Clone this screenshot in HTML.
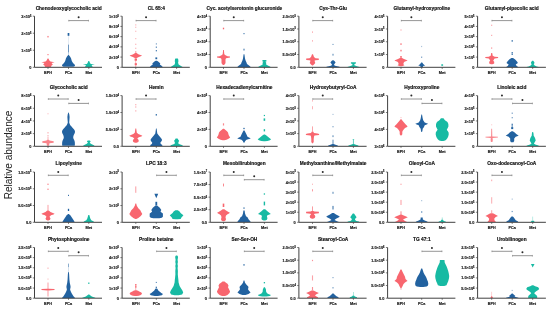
<!DOCTYPE html><html><head><meta charset="utf-8"><style>html,body{margin:0;padding:0;background:#fff;overflow:hidden}svg{display:block;will-change:transform}text{font-family:"Liberation Sans",sans-serif}</style></head><body>
<svg width="550" height="309" viewBox="0 0 550 309">
<rect width="550" height="309" fill="#fff"/>
<text x="0" y="0" transform="translate(11.8,155.0) rotate(-90)" text-anchor="middle" font-size="10.8" textLength="88.7" lengthAdjust="spacingAndGlyphs" fill="#222">Relative abundance</text>
<text x="68.70" y="9.80" text-anchor="middle" font-size="6.1" font-weight="bold" textLength="66.14" lengthAdjust="spacingAndGlyphs" fill="#111" stroke="#111" stroke-width="0.2">Chenodeoxyglycocholic acid</text>
<rect x="47.25" y="35.95" width="1.50" height="1.50" fill="#F8666F" fill-opacity="0.7150000000000001"/>
<rect x="47.30" y="54.00" width="1.40" height="1.20" fill="#F8666F" fill-opacity="0.7150000000000001"/>
<path d="M48.40,58.50 L49.40,60.40 L50.50,61.60 L54.60,62.20 L51.50,62.90 L52.20,63.80 L52.80,64.70 L51.50,65.50 L51.20,66.40 L50.80,67.00 L45.20,67.00 L44.80,66.40 L44.50,65.50 L43.20,64.70 L43.80,63.80 L44.50,62.90 L41.40,62.20 L45.50,61.60 L46.60,60.40 L47.60,58.50Z" fill="#F8666F"/>
<rect x="67.65" y="33.00" width="1.70" height="2.80" fill="#2262A0" fill-opacity="1"/>
<rect x="68.25" y="36.00" width="0.50" height="8.50" fill="#2262A0" fill-opacity="0.24"/>
<rect x="68.05" y="44.60" width="0.90" height="7.80" fill="#2262A0" fill-opacity="0.72"/>
<rect x="68.20" y="52.40" width="0.60" height="2.60" fill="#2262A0" fill-opacity="0.48"/>
<path d="M68.80,54.90 L70.00,56.50 L71.00,58.20 L71.80,60.90 L73.00,63.10 L74.80,64.70 L75.00,66.10 L73.50,66.80 L63.50,66.80 L62.00,66.10 L62.20,64.70 L64.00,63.10 L65.20,60.90 L66.00,58.20 L67.00,56.50 L68.20,54.90Z" fill="#2262A0"/>
<path d="M89.20,60.90 L90.00,63.10 L90.80,64.00 L94.80,64.40 L91.80,65.00 L91.80,65.80 L92.80,66.60 L91.80,67.00 L85.80,67.00 L84.80,66.60 L85.80,65.80 L85.80,65.00 L82.80,64.40 L86.80,64.00 L87.60,63.10 L88.40,60.90Z" fill="#17BAA3"/>
<path d="M34.50,16.20 V67.30 H102.00" fill="none" stroke="#404040" stroke-width="1.0"/>
<text transform="translate(31.40,17.75) scale(0.94,1)" text-anchor="end" font-size="4.1" font-weight="bold" fill="#1a1a1a" stroke="#1a1a1a" stroke-width="0.16">3×10<tspan font-size="2.7" dy="-1.1">5</tspan></text>
<text transform="translate(31.40,34.78) scale(0.94,1)" text-anchor="end" font-size="4.1" font-weight="bold" fill="#1a1a1a" stroke="#1a1a1a" stroke-width="0.16">2×10<tspan font-size="2.7" dy="-1.1">5</tspan></text>
<text transform="translate(31.40,51.82) scale(0.94,1)" text-anchor="end" font-size="4.1" font-weight="bold" fill="#1a1a1a" stroke="#1a1a1a" stroke-width="0.16">1×10<tspan font-size="2.7" dy="-1.1">5</tspan></text>
<text transform="translate(31.30,68.85) scale(0.94,1)" text-anchor="end" font-size="4.1" font-weight="bold" fill="#1a1a1a" stroke="#1a1a1a" stroke-width="0.16">0</text>
<path d="M32.80,16.20H34.50M32.80,33.23H34.50M32.80,50.27H34.50M32.80,67.30H34.50M48.00,67.30V68.90M68.50,67.30V68.90M88.80,67.30V68.90" stroke="#404040" stroke-width="0.7" fill="none"/>
<text x="48.00" y="73.80" text-anchor="middle" font-size="4.1" font-weight="bold" textLength="7.8" lengthAdjust="spacingAndGlyphs" fill="#1a1a1a" stroke="#1a1a1a" stroke-width="0.18">BPH</text>
<text x="68.50" y="73.80" text-anchor="middle" font-size="4.1" font-weight="bold" textLength="7.2" lengthAdjust="spacingAndGlyphs" fill="#1a1a1a" stroke="#1a1a1a" stroke-width="0.18">PCa</text>
<text x="88.80" y="73.80" text-anchor="middle" font-size="4.1" font-weight="bold" textLength="6.7" lengthAdjust="spacingAndGlyphs" fill="#1a1a1a" stroke="#1a1a1a" stroke-width="0.18">Met</text>
<path d="M68.50,20.60H88.80" stroke="#8a8a8a" stroke-width="0.9" fill="none"/>
<path d="M68.80,19.80V21.50M88.50,19.80V21.50" stroke="#8a8a8a" stroke-width="0.6" fill="none"/>
<circle cx="78.65" cy="17.20" r="1.0" fill="#2a2a2a"/>
<text x="156.30" y="9.80" text-anchor="middle" font-size="6.1" font-weight="bold" textLength="17.25" lengthAdjust="spacingAndGlyphs" fill="#111" stroke="#111" stroke-width="0.2">CL 65:4</text>
<rect x="135.35" y="24.30" width="0.90" height="1.20" fill="#F8666F" fill-opacity="0.5850000000000001"/>
<rect x="135.35" y="26.70" width="0.90" height="1.20" fill="#F8666F" fill-opacity="0.5850000000000001"/>
<rect x="135.35" y="30.70" width="0.90" height="1.20" fill="#F8666F" fill-opacity="0.5850000000000001"/>
<rect x="135.35" y="38.00" width="0.90" height="1.20" fill="#F8666F" fill-opacity="0.5850000000000001"/>
<rect x="135.35" y="43.70" width="0.90" height="1.20" fill="#F8666F" fill-opacity="0.65"/>
<rect x="135.35" y="47.70" width="0.90" height="1.20" fill="#F8666F" fill-opacity="0.65"/>
<rect x="135.35" y="51.00" width="0.90" height="1.20" fill="#F8666F" fill-opacity="0.7150000000000001"/>
<rect x="134.60" y="58.50" width="2.40" height="2.20" fill="#F8666F" fill-opacity="1"/>
<rect x="134.70" y="63.20" width="2.20" height="2.00" fill="#F8666F" fill-opacity="1"/>
<rect x="135.50" y="58.00" width="0.60" height="9.00" fill="#F8666F" fill-opacity="0.84"/>
<path d="M136.20,52.60 L136.80,53.20 L138.80,54.50 L141.30,55.30 L142.00,55.60 L141.30,56.10 L138.80,56.90 L136.80,58.00 L134.80,58.00 L132.80,56.90 L130.30,56.10 L129.60,55.60 L130.30,55.30 L132.80,54.50 L134.80,53.20 L135.40,52.60Z" fill="#F8666F"/>
<rect x="155.85" y="43.30" width="0.90" height="1.20" fill="#2262A0" fill-opacity="0.78"/>
<rect x="155.80" y="46.55" width="1.00" height="1.30" fill="#2262A0" fill-opacity="0.9099999999999999"/>
<rect x="155.80" y="50.05" width="1.00" height="1.30" fill="#2262A0" fill-opacity="1"/>
<rect x="155.40" y="57.40" width="1.80" height="1.80" fill="#2262A0" fill-opacity="1"/>
<path d="M156.80,60.80 L157.80,61.30 L159.30,62.40 L160.30,63.40 L159.80,64.50 L161.30,65.60 L162.80,66.90 L162.80,67.20 L149.80,67.20 L149.80,66.90 L151.30,65.60 L152.80,64.50 L152.30,63.40 L153.30,62.40 L154.80,61.30 L155.80,60.80Z" fill="#2262A0"/>
<path d="M177.80,58.60 L178.20,59.20 L178.40,61.30 L178.10,62.80 L178.60,64.50 L180.60,65.80 L182.60,66.90 L182.60,67.20 L170.60,67.20 L170.60,66.90 L172.60,65.80 L174.60,64.50 L175.10,62.80 L174.80,61.30 L175.00,59.20 L175.40,58.60Z" fill="#17BAA3"/>
<path d="M122.10,16.20 V67.30 H189.80" fill="none" stroke="#404040" stroke-width="1.0"/>
<text transform="translate(119.00,17.75) scale(0.94,1)" text-anchor="end" font-size="4.1" font-weight="bold" fill="#1a1a1a" stroke="#1a1a1a" stroke-width="0.16">1×10<tspan font-size="2.7" dy="-1.1">5</tspan></text>
<text transform="translate(119.00,27.97) scale(0.94,1)" text-anchor="end" font-size="4.1" font-weight="bold" fill="#1a1a1a" stroke="#1a1a1a" stroke-width="0.16">8×10<tspan font-size="2.7" dy="-1.1">4</tspan></text>
<text transform="translate(119.00,38.19) scale(0.94,1)" text-anchor="end" font-size="4.1" font-weight="bold" fill="#1a1a1a" stroke="#1a1a1a" stroke-width="0.16">6×10<tspan font-size="2.7" dy="-1.1">4</tspan></text>
<text transform="translate(119.00,48.41) scale(0.94,1)" text-anchor="end" font-size="4.1" font-weight="bold" fill="#1a1a1a" stroke="#1a1a1a" stroke-width="0.16">4×10<tspan font-size="2.7" dy="-1.1">4</tspan></text>
<text transform="translate(119.00,58.63) scale(0.94,1)" text-anchor="end" font-size="4.1" font-weight="bold" fill="#1a1a1a" stroke="#1a1a1a" stroke-width="0.16">2×10<tspan font-size="2.7" dy="-1.1">4</tspan></text>
<text transform="translate(118.90,68.85) scale(0.94,1)" text-anchor="end" font-size="4.1" font-weight="bold" fill="#1a1a1a" stroke="#1a1a1a" stroke-width="0.16">0</text>
<path d="M120.40,16.20H122.10M120.40,26.42H122.10M120.40,36.64H122.10M120.40,46.86H122.10M120.40,57.08H122.10M120.40,67.30H122.10M135.80,67.30V68.90M156.30,67.30V68.90M176.60,67.30V68.90" stroke="#404040" stroke-width="0.7" fill="none"/>
<text x="135.80" y="73.80" text-anchor="middle" font-size="4.1" font-weight="bold" textLength="7.8" lengthAdjust="spacingAndGlyphs" fill="#1a1a1a" stroke="#1a1a1a" stroke-width="0.18">BPH</text>
<text x="156.30" y="73.80" text-anchor="middle" font-size="4.1" font-weight="bold" textLength="7.2" lengthAdjust="spacingAndGlyphs" fill="#1a1a1a" stroke="#1a1a1a" stroke-width="0.18">PCa</text>
<text x="176.60" y="73.80" text-anchor="middle" font-size="4.1" font-weight="bold" textLength="6.7" lengthAdjust="spacingAndGlyphs" fill="#1a1a1a" stroke="#1a1a1a" stroke-width="0.18">Met</text>
<path d="M135.80,20.60H156.30" stroke="#8a8a8a" stroke-width="0.9" fill="none"/>
<path d="M136.10,19.80V21.50M156.00,19.80V21.50" stroke="#8a8a8a" stroke-width="0.6" fill="none"/>
<circle cx="146.05" cy="17.20" r="1.0" fill="#2a2a2a"/>
<text x="244.40" y="9.80" text-anchor="middle" font-size="6.1" font-weight="bold" textLength="75.74" lengthAdjust="spacingAndGlyphs" fill="#111" stroke="#111" stroke-width="0.2">Cyc. acetylserotonin glucuronide</text>
<rect x="222.85" y="27.70" width="1.30" height="1.60" fill="#F8666F" fill-opacity="1"/>
<path d="M223.90,50.00 L224.30,54.20 L225.50,55.30 L227.50,56.20 L230.00,56.60 L230.00,57.50 L227.50,57.90 L226.00,58.30 L225.50,59.60 L225.50,62.90 L225.00,64.00 L224.00,64.90 L223.00,64.90 L222.00,64.00 L221.50,62.90 L221.50,59.60 L221.00,58.30 L219.50,57.90 L217.00,57.50 L217.00,56.60 L219.50,56.20 L221.50,55.30 L222.70,54.20 L223.10,50.00Z" fill="#F8666F"/>
<rect x="243.40" y="33.00" width="1.20" height="1.20" fill="#2262A0" fill-opacity="0.78"/>
<rect x="243.40" y="48.70" width="1.20" height="1.80" fill="#2262A0" fill-opacity="0.78"/>
<path d="M244.40,54.20 L245.00,58.50 L245.50,60.20 L246.50,62.40 L247.00,64.00 L249.00,65.60 L250.50,66.70 L250.50,67.20 L237.50,67.20 L237.50,66.70 L239.00,65.60 L241.00,64.00 L241.50,62.40 L242.50,60.20 L243.00,58.50 L243.60,54.20Z" fill="#2262A0"/>
<path d="M265.60,60.00 L266.60,60.50 L266.60,61.30 L265.40,61.80 L266.40,63.10 L265.90,64.20 L267.40,65.30 L270.40,66.70 L270.40,67.20 L258.40,67.20 L258.40,66.70 L261.40,65.30 L262.90,64.20 L262.40,63.10 L263.40,61.80 L262.20,61.30 L262.20,60.50 L263.20,60.00Z" fill="#17BAA3"/>
<path d="M210.20,16.20 V67.30 H277.60" fill="none" stroke="#404040" stroke-width="1.0"/>
<text transform="translate(207.10,17.75) scale(0.94,1)" text-anchor="end" font-size="4.1" font-weight="bold" fill="#1a1a1a" stroke="#1a1a1a" stroke-width="0.16">4×10<tspan font-size="2.7" dy="-1.1">4</tspan></text>
<text transform="translate(207.10,30.52) scale(0.94,1)" text-anchor="end" font-size="4.1" font-weight="bold" fill="#1a1a1a" stroke="#1a1a1a" stroke-width="0.16">3×10<tspan font-size="2.7" dy="-1.1">4</tspan></text>
<text transform="translate(207.10,43.30) scale(0.94,1)" text-anchor="end" font-size="4.1" font-weight="bold" fill="#1a1a1a" stroke="#1a1a1a" stroke-width="0.16">2×10<tspan font-size="2.7" dy="-1.1">4</tspan></text>
<text transform="translate(207.10,56.07) scale(0.94,1)" text-anchor="end" font-size="4.1" font-weight="bold" fill="#1a1a1a" stroke="#1a1a1a" stroke-width="0.16">1×10<tspan font-size="2.7" dy="-1.1">4</tspan></text>
<text transform="translate(207.00,68.85) scale(0.94,1)" text-anchor="end" font-size="4.1" font-weight="bold" fill="#1a1a1a" stroke="#1a1a1a" stroke-width="0.16">0</text>
<path d="M208.50,16.20H210.20M208.50,28.97H210.20M208.50,41.75H210.20M208.50,54.52H210.20M208.50,67.30H210.20M223.50,67.30V68.90M244.00,67.30V68.90M264.40,67.30V68.90" stroke="#404040" stroke-width="0.7" fill="none"/>
<text x="223.50" y="73.80" text-anchor="middle" font-size="4.1" font-weight="bold" textLength="7.8" lengthAdjust="spacingAndGlyphs" fill="#1a1a1a" stroke="#1a1a1a" stroke-width="0.18">BPH</text>
<text x="244.00" y="73.80" text-anchor="middle" font-size="4.1" font-weight="bold" textLength="7.2" lengthAdjust="spacingAndGlyphs" fill="#1a1a1a" stroke="#1a1a1a" stroke-width="0.18">PCa</text>
<text x="264.40" y="73.80" text-anchor="middle" font-size="4.1" font-weight="bold" textLength="6.7" lengthAdjust="spacingAndGlyphs" fill="#1a1a1a" stroke="#1a1a1a" stroke-width="0.18">Met</text>
<path d="M223.50,20.60H244.00" stroke="#8a8a8a" stroke-width="0.9" fill="none"/>
<path d="M223.80,19.80V21.50M243.70,19.80V21.50" stroke="#8a8a8a" stroke-width="0.6" fill="none"/>
<circle cx="233.75" cy="17.20" r="1.0" fill="#2a2a2a"/>
<text x="333.10" y="9.80" text-anchor="middle" font-size="6.1" font-weight="bold" textLength="27.73" lengthAdjust="spacingAndGlyphs" fill="#111" stroke="#111" stroke-width="0.2">Cys-Thr-Glu</text>
<rect x="312.00" y="31.50" width="1.00" height="1.20" fill="#F8666F" fill-opacity="0.65"/>
<rect x="312.00" y="40.30" width="1.00" height="1.20" fill="#F8666F" fill-opacity="0.65"/>
<path d="M313.00,54.20 L314.00,56.90 L315.50,58.20 L318.80,58.60 L318.80,60.00 L315.50,60.30 L314.50,60.70 L315.30,62.90 L314.00,64.50 L312.80,65.60 L312.20,65.60 L311.00,64.50 L309.70,62.90 L310.50,60.70 L309.50,60.30 L306.20,60.00 L306.20,58.60 L309.50,58.20 L311.00,56.90 L312.00,54.20Z" fill="#F8666F"/>
<rect x="332.40" y="43.90" width="1.20" height="1.00" fill="#2262A0" fill-opacity="0.65"/>
<rect x="332.40" y="53.80" width="1.20" height="1.80" fill="#2262A0" fill-opacity="0.65"/>
<path d="M333.40,60.20 L334.50,61.00 L335.60,62.40 L334.80,63.50 L334.00,64.50 L334.50,65.50 L336.00,66.10 L339.50,66.80 L339.50,67.20 L326.50,67.20 L326.50,66.80 L330.00,66.10 L331.50,65.50 L332.00,64.50 L331.20,63.50 L330.40,62.40 L331.50,61.00 L332.60,60.20Z" fill="#2262A0"/>
<path d="M355.90,62.30 L355.90,63.40 L354.40,64.00 L354.40,65.30 L356.90,66.20 L359.40,66.90 L359.40,67.20 L347.40,67.20 L347.40,66.90 L349.90,66.20 L352.40,65.30 L352.40,64.00 L350.90,63.40 L350.90,62.30Z" fill="#17BAA3"/>
<path d="M298.90,16.20 V67.30 H366.60" fill="none" stroke="#404040" stroke-width="1.0"/>
<text transform="translate(295.80,17.75) scale(0.94,1)" text-anchor="end" font-size="4.1" font-weight="bold" fill="#1a1a1a" stroke="#1a1a1a" stroke-width="0.16">2.0×10<tspan font-size="2.7" dy="-1.1">5</tspan></text>
<text transform="translate(295.80,30.52) scale(0.94,1)" text-anchor="end" font-size="4.1" font-weight="bold" fill="#1a1a1a" stroke="#1a1a1a" stroke-width="0.16">1.5×10<tspan font-size="2.7" dy="-1.1">5</tspan></text>
<text transform="translate(295.80,43.30) scale(0.94,1)" text-anchor="end" font-size="4.1" font-weight="bold" fill="#1a1a1a" stroke="#1a1a1a" stroke-width="0.16">1.0×10<tspan font-size="2.7" dy="-1.1">5</tspan></text>
<text transform="translate(295.80,56.07) scale(0.94,1)" text-anchor="end" font-size="4.1" font-weight="bold" fill="#1a1a1a" stroke="#1a1a1a" stroke-width="0.16">5.0×10<tspan font-size="2.7" dy="-1.1">4</tspan></text>
<text transform="translate(295.70,68.85) scale(0.94,1)" text-anchor="end" font-size="4.1" font-weight="bold" fill="#1a1a1a" stroke="#1a1a1a" stroke-width="0.16">0.0</text>
<path d="M297.20,16.20H298.90M297.20,28.97H298.90M297.20,41.75H298.90M297.20,54.52H298.90M297.20,67.30H298.90M312.50,67.30V68.90M333.00,67.30V68.90M353.40,67.30V68.90" stroke="#404040" stroke-width="0.7" fill="none"/>
<text x="312.50" y="73.80" text-anchor="middle" font-size="4.1" font-weight="bold" textLength="7.8" lengthAdjust="spacingAndGlyphs" fill="#1a1a1a" stroke="#1a1a1a" stroke-width="0.18">BPH</text>
<text x="333.00" y="73.80" text-anchor="middle" font-size="4.1" font-weight="bold" textLength="7.2" lengthAdjust="spacingAndGlyphs" fill="#1a1a1a" stroke="#1a1a1a" stroke-width="0.18">PCa</text>
<text x="353.40" y="73.80" text-anchor="middle" font-size="4.1" font-weight="bold" textLength="6.7" lengthAdjust="spacingAndGlyphs" fill="#1a1a1a" stroke="#1a1a1a" stroke-width="0.18">Met</text>
<path d="M312.50,20.60H333.00" stroke="#8a8a8a" stroke-width="0.9" fill="none"/>
<path d="M312.80,19.80V21.50M332.70,19.80V21.50" stroke="#8a8a8a" stroke-width="0.6" fill="none"/>
<circle cx="322.75" cy="17.20" r="1.0" fill="#2a2a2a"/>
<text x="421.80" y="9.80" text-anchor="middle" font-size="6.1" font-weight="bold" textLength="56.81" lengthAdjust="spacingAndGlyphs" fill="#111" stroke="#111" stroke-width="0.2">Glutamyl-hydroxyproline</text>
<rect x="400.50" y="29.40" width="1.00" height="1.20" fill="#F8666F" fill-opacity="0.65"/>
<rect x="400.20" y="43.30" width="1.60" height="1.60" fill="#F8666F" fill-opacity="0.7150000000000001"/>
<rect x="400.20" y="49.80" width="1.60" height="1.60" fill="#F8666F" fill-opacity="0.7150000000000001"/>
<rect x="400.10" y="56.10" width="1.80" height="1.60" fill="#F8666F" fill-opacity="0.9099999999999999"/>
<path d="M401.80,57.80 L402.50,58.20 L404.00,59.10 L406.50,59.90 L407.60,60.40 L406.50,60.90 L404.50,61.80 L403.50,62.90 L403.50,64.50 L404.50,65.30 L402.00,66.20 L400.00,66.20 L397.50,65.30 L398.50,64.50 L398.50,62.90 L397.50,61.80 L395.50,60.90 L394.40,60.40 L395.50,59.90 L398.00,59.10 L399.50,58.20 L400.20,57.80Z" fill="#F8666F"/>
<rect x="421.30" y="45.90" width="0.80" height="1.20" fill="#2262A0" fill-opacity="0.52"/>
<rect x="421.20" y="56.60" width="1.00" height="1.20" fill="#2262A0" fill-opacity="0.78"/>
<path d="M422.20,62.40 L423.20,64.00 L424.70,65.20 L425.20,65.60 L423.20,66.00 L422.90,66.80 L422.70,67.20 L420.70,67.20 L420.50,66.80 L420.20,66.00 L418.20,65.60 L418.70,65.20 L420.20,64.00 L421.20,62.40Z" fill="#2262A0"/>
<path d="M443.10,64.30 L443.10,65.80 L441.30,65.80 L441.30,64.30Z" fill="#17BAA3"/>
<path d="M387.60,16.20 V67.30 H455.40" fill="none" stroke="#404040" stroke-width="1.0"/>
<text transform="translate(384.50,17.75) scale(0.94,1)" text-anchor="end" font-size="4.1" font-weight="bold" fill="#1a1a1a" stroke="#1a1a1a" stroke-width="0.16">4×10<tspan font-size="2.7" dy="-1.1">5</tspan></text>
<text transform="translate(384.50,30.52) scale(0.94,1)" text-anchor="end" font-size="4.1" font-weight="bold" fill="#1a1a1a" stroke="#1a1a1a" stroke-width="0.16">3×10<tspan font-size="2.7" dy="-1.1">5</tspan></text>
<text transform="translate(384.50,43.30) scale(0.94,1)" text-anchor="end" font-size="4.1" font-weight="bold" fill="#1a1a1a" stroke="#1a1a1a" stroke-width="0.16">2×10<tspan font-size="2.7" dy="-1.1">5</tspan></text>
<text transform="translate(384.50,56.07) scale(0.94,1)" text-anchor="end" font-size="4.1" font-weight="bold" fill="#1a1a1a" stroke="#1a1a1a" stroke-width="0.16">1×10<tspan font-size="2.7" dy="-1.1">5</tspan></text>
<text transform="translate(384.40,68.85) scale(0.94,1)" text-anchor="end" font-size="4.1" font-weight="bold" fill="#1a1a1a" stroke="#1a1a1a" stroke-width="0.16">0</text>
<path d="M385.90,16.20H387.60M385.90,28.97H387.60M385.90,41.75H387.60M385.90,54.52H387.60M385.90,67.30H387.60M401.00,67.30V68.90M421.70,67.30V68.90M442.20,67.30V68.90" stroke="#404040" stroke-width="0.7" fill="none"/>
<text x="401.00" y="73.80" text-anchor="middle" font-size="4.1" font-weight="bold" textLength="7.8" lengthAdjust="spacingAndGlyphs" fill="#1a1a1a" stroke="#1a1a1a" stroke-width="0.18">BPH</text>
<text x="421.70" y="73.80" text-anchor="middle" font-size="4.1" font-weight="bold" textLength="7.2" lengthAdjust="spacingAndGlyphs" fill="#1a1a1a" stroke="#1a1a1a" stroke-width="0.18">PCa</text>
<text x="442.20" y="73.80" text-anchor="middle" font-size="4.1" font-weight="bold" textLength="6.7" lengthAdjust="spacingAndGlyphs" fill="#1a1a1a" stroke="#1a1a1a" stroke-width="0.18">Met</text>
<path d="M401.00,20.60H421.70" stroke="#8a8a8a" stroke-width="0.9" fill="none"/>
<path d="M401.30,19.80V21.50M421.40,19.80V21.50" stroke="#8a8a8a" stroke-width="0.6" fill="none"/>
<circle cx="411.35" cy="17.20" r="1.0" fill="#2a2a2a"/>
<text x="511.80" y="9.80" text-anchor="middle" font-size="6.1" font-weight="bold" textLength="53.88" lengthAdjust="spacingAndGlyphs" fill="#111" stroke="#111" stroke-width="0.2">Glutamyl-pipecolic acid</text>
<rect x="491.20" y="24.70" width="1.00" height="1.20" fill="#F8666F" fill-opacity="0.65"/>
<rect x="491.20" y="34.80" width="1.00" height="1.20" fill="#F8666F" fill-opacity="0.65"/>
<rect x="491.20" y="47.30" width="1.00" height="1.60" fill="#F8666F" fill-opacity="0.65"/>
<path d="M492.20,53.10 L492.70,55.80 L494.70,56.70 L498.10,57.00 L498.10,58.10 L494.70,58.50 L494.20,59.10 L493.20,60.70 L494.20,61.80 L494.20,63.40 L492.50,64.20 L490.90,64.20 L489.20,63.40 L489.20,61.80 L490.20,60.70 L489.20,59.10 L488.70,58.50 L485.30,58.10 L485.30,57.00 L488.70,56.70 L490.70,55.80 L491.20,53.10Z" fill="#F8666F"/>
<rect x="511.60" y="40.10" width="1.20" height="1.60" fill="#2262A0" fill-opacity="0.9099999999999999"/>
<rect x="511.60" y="52.00" width="1.20" height="1.40" fill="#2262A0" fill-opacity="0.9099999999999999"/>
<rect x="511.60" y="53.60" width="1.20" height="1.40" fill="#2262A0" fill-opacity="0.9099999999999999"/>
<path d="M513.00,58.00 L515.20,59.60 L517.20,61.80 L517.90,62.90 L515.70,64.50 L516.70,66.00 L518.20,67.00 L518.20,67.20 L506.20,67.20 L506.20,67.00 L507.70,66.00 L508.70,64.50 L506.50,62.90 L507.20,61.80 L509.20,59.60 L511.40,58.00Z" fill="#2262A0"/>
<path d="M533.20,60.70 L534.20,62.00 L534.50,62.90 L533.70,64.20 L534.70,65.60 L536.70,66.50 L538.70,67.00 L538.70,67.20 L526.70,67.20 L526.70,67.00 L528.70,66.50 L530.70,65.60 L531.70,64.20 L530.90,62.90 L531.20,62.00 L532.20,60.70Z" fill="#17BAA3"/>
<path d="M477.60,16.20 V67.30 H545.90" fill="none" stroke="#404040" stroke-width="1.0"/>
<text transform="translate(474.50,17.75) scale(0.94,1)" text-anchor="end" font-size="4.1" font-weight="bold" fill="#1a1a1a" stroke="#1a1a1a" stroke-width="0.16">5×10<tspan font-size="2.7" dy="-1.1">5</tspan></text>
<text transform="translate(474.50,27.97) scale(0.94,1)" text-anchor="end" font-size="4.1" font-weight="bold" fill="#1a1a1a" stroke="#1a1a1a" stroke-width="0.16">4×10<tspan font-size="2.7" dy="-1.1">5</tspan></text>
<text transform="translate(474.50,38.19) scale(0.94,1)" text-anchor="end" font-size="4.1" font-weight="bold" fill="#1a1a1a" stroke="#1a1a1a" stroke-width="0.16">3×10<tspan font-size="2.7" dy="-1.1">5</tspan></text>
<text transform="translate(474.50,48.41) scale(0.94,1)" text-anchor="end" font-size="4.1" font-weight="bold" fill="#1a1a1a" stroke="#1a1a1a" stroke-width="0.16">2×10<tspan font-size="2.7" dy="-1.1">5</tspan></text>
<text transform="translate(474.50,58.63) scale(0.94,1)" text-anchor="end" font-size="4.1" font-weight="bold" fill="#1a1a1a" stroke="#1a1a1a" stroke-width="0.16">1×10<tspan font-size="2.7" dy="-1.1">5</tspan></text>
<text transform="translate(474.40,68.85) scale(0.94,1)" text-anchor="end" font-size="4.1" font-weight="bold" fill="#1a1a1a" stroke="#1a1a1a" stroke-width="0.16">0</text>
<path d="M475.90,16.20H477.60M475.90,26.42H477.60M475.90,36.64H477.60M475.90,46.86H477.60M475.90,57.08H477.60M475.90,67.30H477.60M491.70,67.30V68.90M512.20,67.30V68.90M532.70,67.30V68.90" stroke="#404040" stroke-width="0.7" fill="none"/>
<text x="491.70" y="73.80" text-anchor="middle" font-size="4.1" font-weight="bold" textLength="7.8" lengthAdjust="spacingAndGlyphs" fill="#1a1a1a" stroke="#1a1a1a" stroke-width="0.18">BPH</text>
<text x="512.20" y="73.80" text-anchor="middle" font-size="4.1" font-weight="bold" textLength="7.2" lengthAdjust="spacingAndGlyphs" fill="#1a1a1a" stroke="#1a1a1a" stroke-width="0.18">PCa</text>
<text x="532.70" y="73.80" text-anchor="middle" font-size="4.1" font-weight="bold" textLength="6.7" lengthAdjust="spacingAndGlyphs" fill="#1a1a1a" stroke="#1a1a1a" stroke-width="0.18">Met</text>
<path d="M491.70,20.60H512.20" stroke="#8a8a8a" stroke-width="0.9" fill="none"/>
<path d="M492.00,19.80V21.50M511.90,19.80V21.50" stroke="#8a8a8a" stroke-width="0.6" fill="none"/>
<circle cx="501.95" cy="17.20" r="1.0" fill="#2a2a2a"/>
<text x="68.70" y="88.60" text-anchor="middle" font-size="6.1" font-weight="bold" textLength="38.14" lengthAdjust="spacingAndGlyphs" fill="#111" stroke="#111" stroke-width="0.2">Glycocholic acid</text>
<rect x="47.30" y="113.00" width="1.40" height="1.40" fill="#F8666F" fill-opacity="0.26"/>
<rect x="47.40" y="132.20" width="1.20" height="1.20" fill="#F8666F" fill-opacity="0.5850000000000001"/>
<rect x="47.40" y="135.20" width="1.20" height="1.20" fill="#F8666F" fill-opacity="0.5850000000000001"/>
<rect x="47.40" y="137.40" width="1.20" height="1.20" fill="#F8666F" fill-opacity="0.65"/>
<path d="M48.60,139.50 L49.50,140.60 L53.70,141.20 L53.70,142.70 L49.50,143.20 L49.00,145.70 L47.00,145.70 L46.50,143.20 L42.30,142.70 L42.30,141.20 L46.50,140.60 L47.40,139.50Z" fill="#F8666F" fill-opacity="0.8"/>
<path d="M68.70,112.50 L69.30,114.50 L69.60,117.00 L69.40,120.00 L69.20,122.50 L69.70,124.00 L70.30,125.30 L71.50,126.50 L72.50,127.70 L73.70,129.00 L74.60,130.30 L75.00,131.60 L74.80,133.00 L74.00,134.50 L73.40,136.00 L73.20,137.40 L73.50,138.80 L74.30,140.30 L74.80,142.00 L74.90,144.50 L74.70,145.70 L62.30,145.70 L62.10,144.50 L62.20,142.00 L62.70,140.30 L63.50,138.80 L63.80,137.40 L63.60,136.00 L63.00,134.50 L62.20,133.00 L62.00,131.60 L62.40,130.30 L63.30,129.00 L64.50,127.70 L65.50,126.50 L66.70,125.30 L67.30,124.00 L67.80,122.50 L67.60,120.00 L67.40,117.00 L67.70,114.50 L68.30,112.50Z" fill="#2262A0"/>
<path d="M89.80,140.40 L90.40,141.00 L90.60,141.80 L89.60,142.60 L90.80,143.80 L92.80,144.70 L94.30,145.40 L94.30,145.90 L83.30,145.90 L83.30,145.40 L84.80,144.70 L86.80,143.80 L88.00,142.60 L87.00,141.80 L87.20,141.00 L87.80,140.40Z" fill="#17BAA3"/>
<path d="M34.50,95.60 V146.30 H102.00" fill="none" stroke="#404040" stroke-width="1.0"/>
<text transform="translate(31.40,97.15) scale(0.94,1)" text-anchor="end" font-size="4.1" font-weight="bold" fill="#1a1a1a" stroke="#1a1a1a" stroke-width="0.16">8×10<tspan font-size="2.7" dy="-1.1">6</tspan></text>
<text transform="translate(31.40,109.83) scale(0.94,1)" text-anchor="end" font-size="4.1" font-weight="bold" fill="#1a1a1a" stroke="#1a1a1a" stroke-width="0.16">6×10<tspan font-size="2.7" dy="-1.1">6</tspan></text>
<text transform="translate(31.40,122.50) scale(0.94,1)" text-anchor="end" font-size="4.1" font-weight="bold" fill="#1a1a1a" stroke="#1a1a1a" stroke-width="0.16">4×10<tspan font-size="2.7" dy="-1.1">6</tspan></text>
<text transform="translate(31.40,135.18) scale(0.94,1)" text-anchor="end" font-size="4.1" font-weight="bold" fill="#1a1a1a" stroke="#1a1a1a" stroke-width="0.16">2×10<tspan font-size="2.7" dy="-1.1">6</tspan></text>
<text transform="translate(31.30,147.85) scale(0.94,1)" text-anchor="end" font-size="4.1" font-weight="bold" fill="#1a1a1a" stroke="#1a1a1a" stroke-width="0.16">0</text>
<path d="M32.80,95.60H34.50M32.80,108.28H34.50M32.80,120.95H34.50M32.80,133.62H34.50M32.80,146.30H34.50M48.00,146.30V147.90M68.50,146.30V147.90M88.80,146.30V147.90" stroke="#404040" stroke-width="0.7" fill="none"/>
<text x="48.00" y="152.80" text-anchor="middle" font-size="4.1" font-weight="bold" textLength="7.8" lengthAdjust="spacingAndGlyphs" fill="#1a1a1a" stroke="#1a1a1a" stroke-width="0.18">BPH</text>
<text x="68.50" y="152.80" text-anchor="middle" font-size="4.1" font-weight="bold" textLength="7.2" lengthAdjust="spacingAndGlyphs" fill="#1a1a1a" stroke="#1a1a1a" stroke-width="0.18">PCa</text>
<text x="88.80" y="152.80" text-anchor="middle" font-size="4.1" font-weight="bold" textLength="6.7" lengthAdjust="spacingAndGlyphs" fill="#1a1a1a" stroke="#1a1a1a" stroke-width="0.18">Met</text>
<path d="M48.00,99.00H68.50" stroke="#8a8a8a" stroke-width="0.9" fill="none"/>
<path d="M48.30,98.20V99.90M68.20,98.20V99.90" stroke="#8a8a8a" stroke-width="0.6" fill="none"/>
<circle cx="58.25" cy="95.60" r="1.0" fill="#2a2a2a"/>
<path d="M68.50,103.40H88.80" stroke="#8a8a8a" stroke-width="0.9" fill="none"/>
<path d="M68.80,102.60V104.30M88.50,102.60V104.30" stroke="#8a8a8a" stroke-width="0.6" fill="none"/>
<circle cx="78.65" cy="100.00" r="1.0" fill="#2a2a2a"/>
<text x="156.30" y="88.60" text-anchor="middle" font-size="6.1" font-weight="bold" textLength="14.67" lengthAdjust="spacingAndGlyphs" fill="#111" stroke="#111" stroke-width="0.2">Hemin</text>
<rect x="135.30" y="104.10" width="1.00" height="1.20" fill="#F8666F" fill-opacity="0.65"/>
<rect x="135.30" y="106.40" width="1.00" height="1.20" fill="#F8666F" fill-opacity="0.65"/>
<rect x="135.30" y="110.30" width="1.00" height="1.20" fill="#F8666F" fill-opacity="0.65"/>
<path d="M136.20,128.50 L136.80,132.70 L138.30,134.00 L141.30,135.30 L142.40,135.80 L141.30,136.40 L138.80,137.30 L137.30,138.60 L138.30,139.50 L138.80,140.70 L138.30,142.00 L136.60,142.80 L135.00,142.80 L133.30,142.00 L132.80,140.70 L133.30,139.50 L134.30,138.60 L132.80,137.30 L130.30,136.40 L129.20,135.80 L130.30,135.30 L133.30,134.00 L134.80,132.70 L135.40,128.50Z" fill="#F8666F"/>
<rect x="155.70" y="114.00" width="1.20" height="1.60" fill="#2262A0" fill-opacity="0.9099999999999999"/>
<path d="M156.60,128.50 L157.30,133.40 L158.80,135.50 L160.30,137.30 L161.50,138.80 L162.10,140.10 L161.30,141.50 L160.30,142.80 L160.80,144.00 L162.30,145.10 L162.30,145.90 L150.30,145.90 L150.30,145.10 L151.80,144.00 L152.30,142.80 L151.30,141.50 L150.50,140.10 L151.10,138.80 L152.30,137.30 L153.80,135.50 L155.30,133.40 L156.00,128.50Z" fill="#2262A0"/>
<path d="M177.60,138.60 L178.10,139.50 L179.10,140.70 L178.60,142.00 L178.10,143.20 L179.60,144.30 L182.60,145.20 L182.60,145.90 L170.60,145.90 L170.60,145.20 L173.60,144.30 L175.10,143.20 L174.60,142.00 L174.10,140.70 L175.10,139.50 L175.60,138.60Z" fill="#17BAA3"/>
<path d="M122.10,95.60 V146.30 H189.80" fill="none" stroke="#404040" stroke-width="1.0"/>
<text transform="translate(119.00,97.15) scale(0.94,1)" text-anchor="end" font-size="4.1" font-weight="bold" fill="#1a1a1a" stroke="#1a1a1a" stroke-width="0.16">1.5×10<tspan font-size="2.7" dy="-1.1">4</tspan></text>
<text transform="translate(119.00,114.05) scale(0.94,1)" text-anchor="end" font-size="4.1" font-weight="bold" fill="#1a1a1a" stroke="#1a1a1a" stroke-width="0.16">1.0×10<tspan font-size="2.7" dy="-1.1">4</tspan></text>
<text transform="translate(119.00,130.95) scale(0.94,1)" text-anchor="end" font-size="4.1" font-weight="bold" fill="#1a1a1a" stroke="#1a1a1a" stroke-width="0.16">5.0×10<tspan font-size="2.7" dy="-1.1">3</tspan></text>
<text transform="translate(118.90,147.85) scale(0.94,1)" text-anchor="end" font-size="4.1" font-weight="bold" fill="#1a1a1a" stroke="#1a1a1a" stroke-width="0.16">0.0</text>
<path d="M120.40,95.60H122.10M120.40,112.50H122.10M120.40,129.40H122.10M120.40,146.30H122.10M135.80,146.30V147.90M156.30,146.30V147.90M176.60,146.30V147.90" stroke="#404040" stroke-width="0.7" fill="none"/>
<text x="135.80" y="152.80" text-anchor="middle" font-size="4.1" font-weight="bold" textLength="7.8" lengthAdjust="spacingAndGlyphs" fill="#1a1a1a" stroke="#1a1a1a" stroke-width="0.18">BPH</text>
<text x="156.30" y="152.80" text-anchor="middle" font-size="4.1" font-weight="bold" textLength="7.2" lengthAdjust="spacingAndGlyphs" fill="#1a1a1a" stroke="#1a1a1a" stroke-width="0.18">PCa</text>
<text x="176.60" y="152.80" text-anchor="middle" font-size="4.1" font-weight="bold" textLength="6.7" lengthAdjust="spacingAndGlyphs" fill="#1a1a1a" stroke="#1a1a1a" stroke-width="0.18">Met</text>
<path d="M135.80,99.00H156.30" stroke="#8a8a8a" stroke-width="0.9" fill="none"/>
<path d="M136.10,98.20V99.90M156.00,98.20V99.90" stroke="#8a8a8a" stroke-width="0.6" fill="none"/>
<circle cx="146.05" cy="95.60" r="1.0" fill="#2a2a2a"/>
<text x="244.40" y="88.60" text-anchor="middle" font-size="6.1" font-weight="bold" textLength="56.29" lengthAdjust="spacingAndGlyphs" fill="#111" stroke="#111" stroke-width="0.2">Hexadecadienylcarnitine</text>
<rect x="222.90" y="123.30" width="1.20" height="2.20" fill="#F8666F" fill-opacity="0.78"/>
<path d="M224.00,128.70 L225.50,130.00 L227.00,131.30 L228.00,132.60 L228.50,134.50 L229.00,135.80 L230.20,137.50 L228.50,138.80 L226.50,139.70 L224.30,140.30 L222.70,140.30 L220.50,139.70 L218.50,138.80 L216.80,137.50 L218.00,135.80 L218.50,134.50 L219.00,132.60 L220.00,131.30 L221.50,130.00 L223.00,128.70Z" fill="#F8666F"/>
<rect x="243.30" y="127.85" width="1.40" height="1.30" fill="#2262A0" fill-opacity="0.9099999999999999"/>
<path d="M244.50,130.60 L245.50,132.60 L246.50,134.50 L247.50,136.70 L249.50,137.70 L250.80,138.40 L249.00,139.10 L246.50,139.70 L245.20,141.00 L244.30,142.70 L243.70,142.70 L242.80,141.00 L241.50,139.70 L239.00,139.10 L237.20,138.40 L238.50,137.70 L240.50,136.70 L241.50,134.50 L242.50,132.60 L243.50,130.60Z" fill="#2262A0"/>
<rect x="263.80" y="114.90" width="1.20" height="1.20" fill="#17BAA3" fill-opacity="1"/>
<rect x="263.60" y="118.40" width="1.60" height="2.40" fill="#17BAA3" fill-opacity="1"/>
<rect x="263.70" y="129.20" width="1.40" height="2.20" fill="#17BAA3" fill-opacity="1"/>
<path d="M264.90,134.50 L266.40,135.40 L267.90,136.70 L269.40,138.00 L271.10,139.30 L269.90,140.30 L267.40,141.00 L264.90,141.30 L263.90,141.30 L261.40,141.00 L258.90,140.30 L257.70,139.30 L259.40,138.00 L260.90,136.70 L262.40,135.40 L263.90,134.50Z" fill="#17BAA3"/>
<path d="M210.20,95.60 V146.30 H277.60" fill="none" stroke="#404040" stroke-width="1.0"/>
<text transform="translate(207.10,97.15) scale(0.94,1)" text-anchor="end" font-size="4.1" font-weight="bold" fill="#1a1a1a" stroke="#1a1a1a" stroke-width="0.16">6×10<tspan font-size="2.7" dy="-1.1">6</tspan></text>
<text transform="translate(207.10,114.05) scale(0.94,1)" text-anchor="end" font-size="4.1" font-weight="bold" fill="#1a1a1a" stroke="#1a1a1a" stroke-width="0.16">4×10<tspan font-size="2.7" dy="-1.1">6</tspan></text>
<text transform="translate(207.10,130.95) scale(0.94,1)" text-anchor="end" font-size="4.1" font-weight="bold" fill="#1a1a1a" stroke="#1a1a1a" stroke-width="0.16">2×10<tspan font-size="2.7" dy="-1.1">6</tspan></text>
<text transform="translate(207.00,147.85) scale(0.94,1)" text-anchor="end" font-size="4.1" font-weight="bold" fill="#1a1a1a" stroke="#1a1a1a" stroke-width="0.16">0</text>
<path d="M208.50,95.60H210.20M208.50,112.50H210.20M208.50,129.40H210.20M208.50,146.30H210.20M223.50,146.30V147.90M244.00,146.30V147.90M264.40,146.30V147.90" stroke="#404040" stroke-width="0.7" fill="none"/>
<text x="223.50" y="152.80" text-anchor="middle" font-size="4.1" font-weight="bold" textLength="7.8" lengthAdjust="spacingAndGlyphs" fill="#1a1a1a" stroke="#1a1a1a" stroke-width="0.18">BPH</text>
<text x="244.00" y="152.80" text-anchor="middle" font-size="4.1" font-weight="bold" textLength="7.2" lengthAdjust="spacingAndGlyphs" fill="#1a1a1a" stroke="#1a1a1a" stroke-width="0.18">PCa</text>
<text x="264.40" y="152.80" text-anchor="middle" font-size="4.1" font-weight="bold" textLength="6.7" lengthAdjust="spacingAndGlyphs" fill="#1a1a1a" stroke="#1a1a1a" stroke-width="0.18">Met</text>
<path d="M223.50,99.00H244.00" stroke="#8a8a8a" stroke-width="0.9" fill="none"/>
<path d="M223.80,98.20V99.90M243.70,98.20V99.90" stroke="#8a8a8a" stroke-width="0.6" fill="none"/>
<circle cx="233.75" cy="95.60" r="1.0" fill="#2a2a2a"/>
<text x="333.10" y="88.60" text-anchor="middle" font-size="6.1" font-weight="bold" textLength="46.67" lengthAdjust="spacingAndGlyphs" fill="#111" stroke="#111" stroke-width="0.2">Hydroxybutyryl-CoA</text>
<rect x="312.10" y="100.00" width="0.80" height="1.60" fill="#F8666F" fill-opacity="0.54"/>
<rect x="312.05" y="106.20" width="0.90" height="3.10" fill="#F8666F" fill-opacity="0.54"/>
<rect x="312.05" y="126.40" width="0.90" height="5.10" fill="#F8666F" fill-opacity="0.66"/>
<path d="M313.10,131.50 L314.00,133.00 L317.50,133.60 L319.10,134.00 L319.10,135.00 L314.50,135.40 L314.00,136.50 L313.70,138.90 L313.70,142.00 L312.90,143.20 L312.10,143.20 L311.30,142.00 L311.30,138.90 L311.00,136.50 L310.50,135.40 L305.90,135.00 L305.90,134.00 L307.50,133.60 L311.00,133.00 L311.90,131.50Z" fill="#F8666F"/>
<rect x="332.40" y="113.90" width="1.20" height="0.80" fill="#2262A0" fill-opacity="0.52"/>
<rect x="332.40" y="126.10" width="1.20" height="1.20" fill="#2262A0" fill-opacity="0.5850000000000001"/>
<rect x="332.40" y="135.30" width="1.20" height="1.80" fill="#2262A0" fill-opacity="0.65"/>
<rect x="332.45" y="139.70" width="1.10" height="4.30" fill="#2262A0" fill-opacity="0.66"/>
<path d="M333.50,144.00 L335.50,144.80 L337.80,145.40 L337.80,145.90 L328.20,145.90 L328.20,145.40 L330.50,144.80 L332.50,144.00Z" fill="#2262A0"/>
<rect x="352.60" y="139.00" width="1.60" height="0.60" fill="#17BAA3" fill-opacity="0.78"/>
<rect x="352.95" y="139.30" width="0.90" height="4.70" fill="#17BAA3" fill-opacity="0.72"/>
<path d="M353.90,144.00 L355.90,144.80 L358.40,145.40 L358.40,145.90 L348.40,145.90 L348.40,145.40 L350.90,144.80 L352.90,144.00Z" fill="#17BAA3"/>
<path d="M298.90,95.60 V146.30 H366.60" fill="none" stroke="#404040" stroke-width="1.0"/>
<text transform="translate(295.80,97.15) scale(0.94,1)" text-anchor="end" font-size="4.1" font-weight="bold" fill="#1a1a1a" stroke="#1a1a1a" stroke-width="0.16">4×10<tspan font-size="2.7" dy="-1.1">5</tspan></text>
<text transform="translate(295.80,109.83) scale(0.94,1)" text-anchor="end" font-size="4.1" font-weight="bold" fill="#1a1a1a" stroke="#1a1a1a" stroke-width="0.16">3×10<tspan font-size="2.7" dy="-1.1">5</tspan></text>
<text transform="translate(295.80,122.50) scale(0.94,1)" text-anchor="end" font-size="4.1" font-weight="bold" fill="#1a1a1a" stroke="#1a1a1a" stroke-width="0.16">2×10<tspan font-size="2.7" dy="-1.1">5</tspan></text>
<text transform="translate(295.80,135.18) scale(0.94,1)" text-anchor="end" font-size="4.1" font-weight="bold" fill="#1a1a1a" stroke="#1a1a1a" stroke-width="0.16">1×10<tspan font-size="2.7" dy="-1.1">5</tspan></text>
<text transform="translate(295.70,147.85) scale(0.94,1)" text-anchor="end" font-size="4.1" font-weight="bold" fill="#1a1a1a" stroke="#1a1a1a" stroke-width="0.16">0</text>
<path d="M297.20,95.60H298.90M297.20,108.28H298.90M297.20,120.95H298.90M297.20,133.62H298.90M297.20,146.30H298.90M312.50,146.30V147.90M333.00,146.30V147.90M353.40,146.30V147.90" stroke="#404040" stroke-width="0.7" fill="none"/>
<text x="312.50" y="152.80" text-anchor="middle" font-size="4.1" font-weight="bold" textLength="7.8" lengthAdjust="spacingAndGlyphs" fill="#1a1a1a" stroke="#1a1a1a" stroke-width="0.18">BPH</text>
<text x="333.00" y="152.80" text-anchor="middle" font-size="4.1" font-weight="bold" textLength="7.2" lengthAdjust="spacingAndGlyphs" fill="#1a1a1a" stroke="#1a1a1a" stroke-width="0.18">PCa</text>
<text x="353.40" y="152.80" text-anchor="middle" font-size="4.1" font-weight="bold" textLength="6.7" lengthAdjust="spacingAndGlyphs" fill="#1a1a1a" stroke="#1a1a1a" stroke-width="0.18">Met</text>
<path d="M312.50,99.00H333.00" stroke="#8a8a8a" stroke-width="0.9" fill="none"/>
<path d="M312.80,98.20V99.90M332.70,98.20V99.90" stroke="#8a8a8a" stroke-width="0.6" fill="none"/>
<circle cx="322.75" cy="95.60" r="1.0" fill="#2a2a2a"/>
<text x="421.80" y="88.60" text-anchor="middle" font-size="6.1" font-weight="bold" textLength="35.21" lengthAdjust="spacingAndGlyphs" fill="#111" stroke="#111" stroke-width="0.2">Hydroxyproline</text>
<rect x="400.50" y="117.10" width="1.00" height="1.00" fill="#F8666F" fill-opacity="0.45499999999999996"/>
<path d="M401.40,119.30 L401.80,119.80 L402.50,120.80 L404.00,122.50 L405.50,124.20 L406.80,125.60 L407.60,126.40 L406.60,127.20 L405.00,128.10 L403.50,129.80 L402.60,131.00 L402.30,132.00 L402.30,134.30 L401.40,135.50 L400.60,135.50 L399.70,134.30 L399.70,132.00 L399.40,131.00 L398.50,129.80 L397.00,128.10 L395.40,127.20 L394.40,126.40 L395.20,125.60 L396.50,124.20 L398.00,122.50 L399.50,120.80 L400.20,119.80 L400.60,119.30Z" fill="#F8666F"/>
<path d="M422.00,114.50 L422.30,116.00 L422.60,117.90 L423.20,120.20 L424.70,122.50 L426.70,123.30 L428.10,123.80 L426.70,124.40 L424.70,125.30 L424.00,127.00 L422.70,128.70 L422.40,131.00 L422.00,132.00 L421.40,132.00 L421.00,131.00 L420.70,128.70 L419.40,127.00 L418.70,125.30 L416.70,124.40 L415.30,123.80 L416.70,123.30 L418.70,122.50 L420.20,120.20 L420.80,117.90 L421.10,116.00 L421.40,114.50Z" fill="#2262A0"/>
<path d="M443.50,118.20 L444.00,119.00 L444.70,120.00 L446.00,121.00 L447.20,121.80 L448.00,123.00 L448.40,124.50 L448.40,126.50 L447.70,128.00 L446.80,129.80 L447.70,131.00 L448.60,132.50 L448.70,134.50 L448.20,136.50 L447.50,138.00 L446.40,139.50 L445.20,140.50 L443.20,140.90 L441.20,140.90 L439.20,140.50 L438.00,139.50 L436.90,138.00 L436.20,136.50 L435.70,134.50 L435.80,132.50 L436.70,131.00 L437.60,129.80 L436.70,128.00 L436.00,126.50 L436.00,124.50 L436.40,123.00 L437.20,121.80 L438.40,121.00 L439.70,120.00 L440.40,119.00 L440.90,118.20Z" fill="#17BAA3"/>
<path d="M387.60,95.60 V146.30 H455.40" fill="none" stroke="#404040" stroke-width="1.0"/>
<text transform="translate(384.50,97.15) scale(0.94,1)" text-anchor="end" font-size="4.1" font-weight="bold" fill="#1a1a1a" stroke="#1a1a1a" stroke-width="0.16">6×10<tspan font-size="2.7" dy="-1.1">6</tspan></text>
<text transform="translate(384.50,114.05) scale(0.94,1)" text-anchor="end" font-size="4.1" font-weight="bold" fill="#1a1a1a" stroke="#1a1a1a" stroke-width="0.16">5×10<tspan font-size="2.7" dy="-1.1">6</tspan></text>
<text transform="translate(384.50,130.95) scale(0.94,1)" text-anchor="end" font-size="4.1" font-weight="bold" fill="#1a1a1a" stroke="#1a1a1a" stroke-width="0.16">4×10<tspan font-size="2.7" dy="-1.1">6</tspan></text>
<text transform="translate(384.50,147.85) scale(0.94,1)" text-anchor="end" font-size="4.1" font-weight="bold" fill="#1a1a1a" stroke="#1a1a1a" stroke-width="0.16">3×10<tspan font-size="2.7" dy="-1.1">6</tspan></text>
<path d="M385.90,95.60H387.60M385.90,112.50H387.60M385.90,129.40H387.60M385.90,146.30H387.60M401.00,146.30V147.90M421.70,146.30V147.90M442.20,146.30V147.90" stroke="#404040" stroke-width="0.7" fill="none"/>
<text x="401.00" y="152.80" text-anchor="middle" font-size="4.1" font-weight="bold" textLength="7.8" lengthAdjust="spacingAndGlyphs" fill="#1a1a1a" stroke="#1a1a1a" stroke-width="0.18">BPH</text>
<text x="421.70" y="152.80" text-anchor="middle" font-size="4.1" font-weight="bold" textLength="7.2" lengthAdjust="spacingAndGlyphs" fill="#1a1a1a" stroke="#1a1a1a" stroke-width="0.18">PCa</text>
<text x="442.20" y="152.80" text-anchor="middle" font-size="4.1" font-weight="bold" textLength="6.7" lengthAdjust="spacingAndGlyphs" fill="#1a1a1a" stroke="#1a1a1a" stroke-width="0.18">Met</text>
<path d="M401.00,99.00H421.70" stroke="#8a8a8a" stroke-width="0.9" fill="none"/>
<path d="M401.30,98.20V99.90M421.40,98.20V99.90" stroke="#8a8a8a" stroke-width="0.6" fill="none"/>
<circle cx="411.35" cy="95.60" r="1.0" fill="#2a2a2a"/>
<path d="M421.70,103.40H442.20" stroke="#8a8a8a" stroke-width="0.9" fill="none"/>
<path d="M422.00,102.60V104.30M441.90,102.60V104.30" stroke="#8a8a8a" stroke-width="0.6" fill="none"/>
<circle cx="431.95" cy="100.00" r="1.0" fill="#2a2a2a"/>
<text x="511.80" y="88.60" text-anchor="middle" font-size="6.1" font-weight="bold" textLength="29.07" lengthAdjust="spacingAndGlyphs" fill="#111" stroke="#111" stroke-width="0.2">Linoleic acid</text>
<rect x="491.20" y="124.30" width="1.00" height="1.00" fill="#F8666F" fill-opacity="0.39"/>
<path d="M492.10,128.70 L492.30,136.40 L497.90,136.70 L497.90,137.60 L492.50,137.90 L492.70,139.00 L492.70,141.40 L492.00,142.00 L491.40,142.00 L490.70,141.40 L490.70,139.00 L490.90,137.90 L485.50,137.60 L485.50,136.70 L491.10,136.40 L491.30,128.70Z" fill="#F8666F" fill-opacity="0.8"/>
<rect x="511.70" y="112.60" width="1.00" height="1.20" fill="#2262A0" fill-opacity="0.78"/>
<rect x="511.70" y="117.10" width="1.00" height="1.20" fill="#2262A0" fill-opacity="0.78"/>
<rect x="511.60" y="123.70" width="1.20" height="1.40" fill="#2262A0" fill-opacity="0.9099999999999999"/>
<rect x="511.60" y="125.30" width="1.20" height="1.40" fill="#2262A0" fill-opacity="0.9099999999999999"/>
<rect x="511.20" y="127.10" width="2.00" height="2.00" fill="#2262A0" fill-opacity="1"/>
<path d="M512.80,131.30 L514.70,132.60 L516.20,133.90 L517.70,135.00 L518.70,135.60 L517.20,136.30 L515.70,136.80 L514.20,138.40 L514.20,141.00 L513.40,142.30 L511.00,142.30 L510.20,141.00 L510.20,138.40 L508.70,136.80 L507.20,136.30 L505.70,135.60 L506.70,135.00 L508.20,133.90 L509.70,132.60 L511.60,131.30Z" fill="#2262A0"/>
<path d="M533.10,132.00 L533.50,133.50 L533.70,135.80 L534.50,137.00 L535.20,138.40 L535.70,140.40 L534.70,142.30 L533.90,143.50 L535.20,144.60 L537.70,145.30 L539.20,145.90 L526.20,145.90 L527.70,145.30 L530.20,144.60 L531.50,143.50 L530.70,142.30 L529.70,140.40 L530.20,138.40 L530.90,137.00 L531.70,135.80 L531.90,133.50 L532.30,132.00Z" fill="#17BAA3"/>
<path d="M477.60,95.60 V146.30 H545.90" fill="none" stroke="#404040" stroke-width="1.0"/>
<text transform="translate(474.50,97.15) scale(0.94,1)" text-anchor="end" font-size="4.1" font-weight="bold" fill="#1a1a1a" stroke="#1a1a1a" stroke-width="0.16">4×10<tspan font-size="2.7" dy="-1.1">5</tspan></text>
<text transform="translate(474.50,109.83) scale(0.94,1)" text-anchor="end" font-size="4.1" font-weight="bold" fill="#1a1a1a" stroke="#1a1a1a" stroke-width="0.16">3×10<tspan font-size="2.7" dy="-1.1">5</tspan></text>
<text transform="translate(474.50,122.50) scale(0.94,1)" text-anchor="end" font-size="4.1" font-weight="bold" fill="#1a1a1a" stroke="#1a1a1a" stroke-width="0.16">2×10<tspan font-size="2.7" dy="-1.1">5</tspan></text>
<text transform="translate(474.50,135.18) scale(0.94,1)" text-anchor="end" font-size="4.1" font-weight="bold" fill="#1a1a1a" stroke="#1a1a1a" stroke-width="0.16">1×10<tspan font-size="2.7" dy="-1.1">5</tspan></text>
<text transform="translate(474.40,147.85) scale(0.94,1)" text-anchor="end" font-size="4.1" font-weight="bold" fill="#1a1a1a" stroke="#1a1a1a" stroke-width="0.16">0</text>
<path d="M475.90,95.60H477.60M475.90,108.28H477.60M475.90,120.95H477.60M475.90,133.62H477.60M475.90,146.30H477.60M491.70,146.30V147.90M512.20,146.30V147.90M532.70,146.30V147.90" stroke="#404040" stroke-width="0.7" fill="none"/>
<text x="491.70" y="152.80" text-anchor="middle" font-size="4.1" font-weight="bold" textLength="7.8" lengthAdjust="spacingAndGlyphs" fill="#1a1a1a" stroke="#1a1a1a" stroke-width="0.18">BPH</text>
<text x="512.20" y="152.80" text-anchor="middle" font-size="4.1" font-weight="bold" textLength="7.2" lengthAdjust="spacingAndGlyphs" fill="#1a1a1a" stroke="#1a1a1a" stroke-width="0.18">PCa</text>
<text x="532.70" y="152.80" text-anchor="middle" font-size="4.1" font-weight="bold" textLength="6.7" lengthAdjust="spacingAndGlyphs" fill="#1a1a1a" stroke="#1a1a1a" stroke-width="0.18">Met</text>
<path d="M491.70,99.00H512.20" stroke="#8a8a8a" stroke-width="0.9" fill="none"/>
<path d="M492.00,98.20V99.90M511.90,98.20V99.90" stroke="#8a8a8a" stroke-width="0.6" fill="none"/>
<circle cx="501.95" cy="95.60" r="1.0" fill="#2a2a2a"/>
<path d="M512.20,103.40H532.70" stroke="#8a8a8a" stroke-width="0.9" fill="none"/>
<path d="M512.50,102.60V104.30M532.40,102.60V104.30" stroke="#8a8a8a" stroke-width="0.6" fill="none"/>
<circle cx="522.45" cy="100.00" r="1.0" fill="#2a2a2a"/>
<text x="68.70" y="165.20" text-anchor="middle" font-size="6.1" font-weight="bold" textLength="26.40" lengthAdjust="spacingAndGlyphs" fill="#111" stroke="#111" stroke-width="0.2">Lipoylysine</text>
<rect x="47.30" y="183.60" width="1.40" height="1.40" fill="#F8666F" fill-opacity="0.65"/>
<rect x="47.30" y="188.60" width="1.40" height="1.40" fill="#F8666F" fill-opacity="0.65"/>
<rect x="47.50" y="204.90" width="1.00" height="5.70" fill="#F8666F" fill-opacity="0.6"/>
<path d="M48.80,210.60 L50.50,212.00 L53.50,213.20 L54.60,213.80 L53.50,214.50 L51.00,215.30 L49.50,216.80 L50.50,218.50 L50.00,219.80 L48.50,220.60 L47.50,220.60 L46.00,219.80 L45.50,218.50 L46.50,216.80 L45.00,215.30 L42.50,214.50 L41.40,213.80 L42.50,213.20 L45.50,212.00 L47.20,210.60Z" fill="#F8666F"/>
<rect x="68.00" y="194.80" width="1.00" height="1.20" fill="#2262A0" fill-opacity="0.9099999999999999"/>
<rect x="67.85" y="208.80" width="1.30" height="2.20" fill="#2262A0" fill-opacity="1"/>
<path d="M68.90,213.90 L70.50,215.60 L72.00,217.70 L73.50,219.90 L74.50,221.70 L74.50,221.90 L62.50,221.90 L62.50,221.70 L63.50,219.90 L65.00,217.70 L66.50,215.60 L68.10,213.90Z" fill="#2262A0"/>
<path d="M89.30,214.90 L89.80,216.80 L90.30,218.50 L91.30,220.30 L93.80,221.50 L93.80,221.90 L83.80,221.90 L83.80,221.50 L86.30,220.30 L87.30,218.50 L87.80,216.80 L88.30,214.90Z" fill="#17BAA3"/>
<path d="M34.50,172.00 V222.30 H102.00" fill="none" stroke="#404040" stroke-width="1.0"/>
<text transform="translate(31.40,173.55) scale(0.94,1)" text-anchor="end" font-size="4.1" font-weight="bold" fill="#1a1a1a" stroke="#1a1a1a" stroke-width="0.16">1.5×10<tspan font-size="2.7" dy="-1.1">5</tspan></text>
<text transform="translate(31.40,190.32) scale(0.94,1)" text-anchor="end" font-size="4.1" font-weight="bold" fill="#1a1a1a" stroke="#1a1a1a" stroke-width="0.16">1.0×10<tspan font-size="2.7" dy="-1.1">5</tspan></text>
<text transform="translate(31.40,207.08) scale(0.94,1)" text-anchor="end" font-size="4.1" font-weight="bold" fill="#1a1a1a" stroke="#1a1a1a" stroke-width="0.16">5.0×10<tspan font-size="2.7" dy="-1.1">4</tspan></text>
<text transform="translate(31.30,223.85) scale(0.94,1)" text-anchor="end" font-size="4.1" font-weight="bold" fill="#1a1a1a" stroke="#1a1a1a" stroke-width="0.16">0.0</text>
<path d="M32.80,172.00H34.50M32.80,188.77H34.50M32.80,205.53H34.50M32.80,222.30H34.50M48.00,222.30V223.90M68.50,222.30V223.90M88.80,222.30V223.90" stroke="#404040" stroke-width="0.7" fill="none"/>
<text x="48.00" y="228.80" text-anchor="middle" font-size="4.1" font-weight="bold" textLength="7.8" lengthAdjust="spacingAndGlyphs" fill="#1a1a1a" stroke="#1a1a1a" stroke-width="0.18">BPH</text>
<text x="68.50" y="228.80" text-anchor="middle" font-size="4.1" font-weight="bold" textLength="7.2" lengthAdjust="spacingAndGlyphs" fill="#1a1a1a" stroke="#1a1a1a" stroke-width="0.18">PCa</text>
<text x="88.80" y="228.80" text-anchor="middle" font-size="4.1" font-weight="bold" textLength="6.7" lengthAdjust="spacingAndGlyphs" fill="#1a1a1a" stroke="#1a1a1a" stroke-width="0.18">Met</text>
<path d="M48.00,175.30H68.50" stroke="#8a8a8a" stroke-width="0.9" fill="none"/>
<path d="M48.30,174.50V176.20M68.20,174.50V176.20" stroke="#8a8a8a" stroke-width="0.6" fill="none"/>
<circle cx="58.25" cy="171.90" r="1.0" fill="#2a2a2a"/>
<text x="156.30" y="165.20" text-anchor="middle" font-size="6.1" font-weight="bold" textLength="20.54" lengthAdjust="spacingAndGlyphs" fill="#111" stroke="#111" stroke-width="0.2">LPC 18:3</text>
<rect x="135.35" y="186.40" width="0.90" height="6.40" fill="#F8666F" fill-opacity="0.72"/>
<path d="M136.20,203.50 L136.80,205.70 L138.30,208.30 L140.30,210.20 L141.30,212.20 L142.30,214.10 L140.80,216.00 L138.30,218.00 L136.30,218.90 L135.30,218.90 L133.30,218.00 L130.80,216.00 L129.30,214.10 L130.30,212.20 L131.30,210.20 L133.30,208.30 L134.80,205.70 L135.40,203.50Z" fill="#F8666F"/>
<rect x="155.40" y="201.80" width="1.80" height="3.60" fill="#2262A0" fill-opacity="1"/>
<path d="M154.40,193.80H158.20L156.30,198.30Z" fill="#2262A0"/>
<path d="M157.10,205.60 L158.30,206.40 L159.80,207.80 L161.30,209.90 L160.50,211.60 L161.50,212.50 L162.90,213.50 L162.90,216.80 L161.80,217.80 L159.30,218.20 L153.30,218.20 L150.80,217.80 L149.70,216.80 L149.70,213.50 L151.10,212.50 L152.10,211.60 L151.30,209.90 L152.80,207.80 L154.30,206.40 L155.50,205.60Z" fill="#2262A0"/>
<path d="M177.80,210.30 L179.60,211.60 L180.60,213.00 L182.10,214.30 L183.40,215.30 L182.60,216.30 L181.60,217.30 L180.60,219.00 L177.60,219.20 L175.60,219.20 L172.60,219.00 L171.60,217.30 L170.60,216.30 L169.80,215.30 L171.10,214.30 L172.60,213.00 L173.60,211.60 L175.40,210.30Z" fill="#17BAA3"/>
<path d="M122.10,172.00 V222.30 H189.80" fill="none" stroke="#404040" stroke-width="1.0"/>
<text transform="translate(119.00,173.55) scale(0.94,1)" text-anchor="end" font-size="4.1" font-weight="bold" fill="#1a1a1a" stroke="#1a1a1a" stroke-width="0.16">3×10<tspan font-size="2.7" dy="-1.1">5</tspan></text>
<text transform="translate(119.00,190.32) scale(0.94,1)" text-anchor="end" font-size="4.1" font-weight="bold" fill="#1a1a1a" stroke="#1a1a1a" stroke-width="0.16">2×10<tspan font-size="2.7" dy="-1.1">5</tspan></text>
<text transform="translate(119.00,207.08) scale(0.94,1)" text-anchor="end" font-size="4.1" font-weight="bold" fill="#1a1a1a" stroke="#1a1a1a" stroke-width="0.16">1×10<tspan font-size="2.7" dy="-1.1">5</tspan></text>
<text transform="translate(118.90,223.85) scale(0.94,1)" text-anchor="end" font-size="4.1" font-weight="bold" fill="#1a1a1a" stroke="#1a1a1a" stroke-width="0.16">0</text>
<path d="M120.40,172.00H122.10M120.40,188.77H122.10M120.40,205.53H122.10M120.40,222.30H122.10M135.80,222.30V223.90M156.30,222.30V223.90M176.60,222.30V223.90" stroke="#404040" stroke-width="0.7" fill="none"/>
<text x="135.80" y="228.80" text-anchor="middle" font-size="4.1" font-weight="bold" textLength="7.8" lengthAdjust="spacingAndGlyphs" fill="#1a1a1a" stroke="#1a1a1a" stroke-width="0.18">BPH</text>
<text x="156.30" y="228.80" text-anchor="middle" font-size="4.1" font-weight="bold" textLength="7.2" lengthAdjust="spacingAndGlyphs" fill="#1a1a1a" stroke="#1a1a1a" stroke-width="0.18">PCa</text>
<text x="176.60" y="228.80" text-anchor="middle" font-size="4.1" font-weight="bold" textLength="6.7" lengthAdjust="spacingAndGlyphs" fill="#1a1a1a" stroke="#1a1a1a" stroke-width="0.18">Met</text>
<path d="M156.30,175.30H176.60" stroke="#8a8a8a" stroke-width="0.9" fill="none"/>
<path d="M156.60,174.50V176.20M176.30,174.50V176.20" stroke="#8a8a8a" stroke-width="0.6" fill="none"/>
<circle cx="166.45" cy="171.90" r="1.0" fill="#2a2a2a"/>
<text x="244.40" y="165.20" text-anchor="middle" font-size="6.1" font-weight="bold" textLength="42.66" lengthAdjust="spacingAndGlyphs" fill="#111" stroke="#111" stroke-width="0.2">Mesobilirubinogen</text>
<rect x="223.00" y="183.60" width="1.00" height="2.80" fill="#F8666F" fill-opacity="0.78"/>
<rect x="222.70" y="203.60" width="1.60" height="3.40" fill="#F8666F" fill-opacity="1"/>
<path d="M224.30,209.20 L226.00,210.60 L228.50,212.00 L229.90,212.80 L229.00,213.50 L227.50,214.20 L226.00,215.60 L225.50,217.30 L226.00,219.20 L225.50,220.50 L224.30,221.30 L222.70,221.30 L221.50,220.50 L221.00,219.20 L221.50,217.30 L221.00,215.60 L219.50,214.20 L218.00,213.50 L217.10,212.80 L218.50,212.00 L221.00,210.60 L222.70,209.20Z" fill="#F8666F"/>
<rect x="243.40" y="207.30" width="1.20" height="1.60" fill="#2262A0" fill-opacity="0.78"/>
<path d="M244.60,210.60 L245.00,213.50 L246.00,216.30 L247.50,217.30 L248.50,219.20 L250.50,221.60 L250.50,221.90 L237.50,221.90 L237.50,221.60 L239.50,219.20 L240.50,217.30 L242.00,216.30 L243.00,213.50 L243.40,210.60Z" fill="#2262A0"/>
<rect x="263.75" y="193.35" width="1.30" height="1.30" fill="#17BAA3" fill-opacity="1"/>
<rect x="263.70" y="201.60" width="1.40" height="3.80" fill="#17BAA3" fill-opacity="1"/>
<path d="M265.20,209.20 L267.40,211.30 L269.90,213.20 L270.80,213.90 L269.40,214.60 L267.40,215.30 L266.90,216.30 L267.40,218.20 L266.90,219.80 L265.20,220.60 L263.60,220.60 L261.90,219.80 L261.40,218.20 L261.90,216.30 L261.40,215.30 L259.40,214.60 L258.00,213.90 L258.90,213.20 L261.40,211.30 L263.60,209.20Z" fill="#17BAA3"/>
<path d="M210.20,172.00 V222.30 H277.60" fill="none" stroke="#404040" stroke-width="1.0"/>
<text transform="translate(207.10,173.55) scale(0.94,1)" text-anchor="end" font-size="4.1" font-weight="bold" fill="#1a1a1a" stroke="#1a1a1a" stroke-width="0.16">1.0×10<tspan font-size="2.7" dy="-1.1">7</tspan></text>
<text transform="translate(207.10,186.12) scale(0.94,1)" text-anchor="end" font-size="4.1" font-weight="bold" fill="#1a1a1a" stroke="#1a1a1a" stroke-width="0.16">7.5×10<tspan font-size="2.7" dy="-1.1">6</tspan></text>
<text transform="translate(207.10,198.70) scale(0.94,1)" text-anchor="end" font-size="4.1" font-weight="bold" fill="#1a1a1a" stroke="#1a1a1a" stroke-width="0.16">5.0×10<tspan font-size="2.7" dy="-1.1">6</tspan></text>
<text transform="translate(207.10,211.28) scale(0.94,1)" text-anchor="end" font-size="4.1" font-weight="bold" fill="#1a1a1a" stroke="#1a1a1a" stroke-width="0.16">2.5×10<tspan font-size="2.7" dy="-1.1">6</tspan></text>
<text transform="translate(207.00,223.85) scale(0.94,1)" text-anchor="end" font-size="4.1" font-weight="bold" fill="#1a1a1a" stroke="#1a1a1a" stroke-width="0.16">0.0</text>
<path d="M208.50,172.00H210.20M208.50,184.57H210.20M208.50,197.15H210.20M208.50,209.73H210.20M208.50,222.30H210.20M223.50,222.30V223.90M244.00,222.30V223.90M264.40,222.30V223.90" stroke="#404040" stroke-width="0.7" fill="none"/>
<text x="223.50" y="228.80" text-anchor="middle" font-size="4.1" font-weight="bold" textLength="7.8" lengthAdjust="spacingAndGlyphs" fill="#1a1a1a" stroke="#1a1a1a" stroke-width="0.18">BPH</text>
<text x="244.00" y="228.80" text-anchor="middle" font-size="4.1" font-weight="bold" textLength="7.2" lengthAdjust="spacingAndGlyphs" fill="#1a1a1a" stroke="#1a1a1a" stroke-width="0.18">PCa</text>
<text x="264.40" y="228.80" text-anchor="middle" font-size="4.1" font-weight="bold" textLength="6.7" lengthAdjust="spacingAndGlyphs" fill="#1a1a1a" stroke="#1a1a1a" stroke-width="0.18">Met</text>
<path d="M223.50,175.30H244.00" stroke="#8a8a8a" stroke-width="0.9" fill="none"/>
<path d="M223.80,174.50V176.20M243.70,174.50V176.20" stroke="#8a8a8a" stroke-width="0.6" fill="none"/>
<circle cx="233.75" cy="171.90" r="1.0" fill="#2a2a2a"/>
<path d="M244.00,179.70H264.40" stroke="#8a8a8a" stroke-width="0.9" fill="none"/>
<path d="M244.30,178.90V180.60M264.10,178.90V180.60" stroke="#8a8a8a" stroke-width="0.6" fill="none"/>
<circle cx="254.20" cy="176.30" r="1.0" fill="#2a2a2a"/>
<text x="333.10" y="165.20" text-anchor="middle" font-size="6.1" font-weight="bold" textLength="66.68" lengthAdjust="spacingAndGlyphs" fill="#111" stroke="#111" stroke-width="0.2">Methylxanthine/Methylmalate</text>
<rect x="312.05" y="183.60" width="0.90" height="1.40" fill="#F8666F" fill-opacity="0.45499999999999996"/>
<rect x="312.00" y="189.20" width="1.00" height="2.20" fill="#F8666F" fill-opacity="0.65"/>
<rect x="312.05" y="206.40" width="0.90" height="4.60" fill="#F8666F" fill-opacity="0.72"/>
<path d="M313.30,211.00 L314.50,211.40 L318.90,211.70 L318.90,213.30 L314.50,213.70 L314.00,214.50 L315.00,215.60 L315.30,216.80 L314.70,218.00 L313.00,218.70 L312.00,218.70 L310.30,218.00 L309.70,216.80 L310.00,215.60 L311.00,214.50 L310.50,213.70 L306.10,213.30 L306.10,211.70 L310.50,211.40 L311.70,211.00Z" fill="#F8666F"/>
<rect x="332.40" y="191.80" width="1.20" height="2.00" fill="#2262A0" fill-opacity="0.65"/>
<rect x="332.40" y="205.90" width="1.20" height="3.60" fill="#2262A0" fill-opacity="0.78"/>
<path d="M333.80,213.00 L336.00,214.50 L338.50,215.80 L339.80,216.80 L338.00,217.80 L336.00,218.70 L334.50,219.90 L335.50,220.60 L337.00,221.30 L339.00,221.90 L327.00,221.90 L329.00,221.30 L330.50,220.60 L331.50,219.90 L330.00,218.70 L328.00,217.80 L326.20,216.80 L327.50,215.80 L330.00,214.50 L332.20,213.00Z" fill="#2262A0"/>
<path d="M354.00,213.50 L355.40,215.60 L356.60,217.30 L355.60,218.30 L354.90,219.20 L355.40,220.30 L356.40,220.90 L358.90,221.60 L359.40,221.90 L347.40,221.90 L347.90,221.60 L350.40,220.90 L351.40,220.30 L351.90,219.20 L351.20,218.30 L350.20,217.30 L351.40,215.60 L352.80,213.50Z" fill="#17BAA3"/>
<path d="M298.90,172.00 V222.30 H366.60" fill="none" stroke="#404040" stroke-width="1.0"/>
<text transform="translate(295.80,173.55) scale(0.94,1)" text-anchor="end" font-size="4.1" font-weight="bold" fill="#1a1a1a" stroke="#1a1a1a" stroke-width="0.16">5×10<tspan font-size="2.7" dy="-1.1">5</tspan></text>
<text transform="translate(295.80,183.61) scale(0.94,1)" text-anchor="end" font-size="4.1" font-weight="bold" fill="#1a1a1a" stroke="#1a1a1a" stroke-width="0.16">4×10<tspan font-size="2.7" dy="-1.1">5</tspan></text>
<text transform="translate(295.80,193.67) scale(0.94,1)" text-anchor="end" font-size="4.1" font-weight="bold" fill="#1a1a1a" stroke="#1a1a1a" stroke-width="0.16">3×10<tspan font-size="2.7" dy="-1.1">5</tspan></text>
<text transform="translate(295.80,203.73) scale(0.94,1)" text-anchor="end" font-size="4.1" font-weight="bold" fill="#1a1a1a" stroke="#1a1a1a" stroke-width="0.16">2×10<tspan font-size="2.7" dy="-1.1">5</tspan></text>
<text transform="translate(295.80,213.79) scale(0.94,1)" text-anchor="end" font-size="4.1" font-weight="bold" fill="#1a1a1a" stroke="#1a1a1a" stroke-width="0.16">1×10<tspan font-size="2.7" dy="-1.1">5</tspan></text>
<text transform="translate(295.70,223.85) scale(0.94,1)" text-anchor="end" font-size="4.1" font-weight="bold" fill="#1a1a1a" stroke="#1a1a1a" stroke-width="0.16">0</text>
<path d="M297.20,172.00H298.90M297.20,182.06H298.90M297.20,192.12H298.90M297.20,202.18H298.90M297.20,212.24H298.90M297.20,222.30H298.90M312.50,222.30V223.90M333.00,222.30V223.90M353.40,222.30V223.90" stroke="#404040" stroke-width="0.7" fill="none"/>
<text x="312.50" y="228.80" text-anchor="middle" font-size="4.1" font-weight="bold" textLength="7.8" lengthAdjust="spacingAndGlyphs" fill="#1a1a1a" stroke="#1a1a1a" stroke-width="0.18">BPH</text>
<text x="333.00" y="228.80" text-anchor="middle" font-size="4.1" font-weight="bold" textLength="7.2" lengthAdjust="spacingAndGlyphs" fill="#1a1a1a" stroke="#1a1a1a" stroke-width="0.18">PCa</text>
<text x="353.40" y="228.80" text-anchor="middle" font-size="4.1" font-weight="bold" textLength="6.7" lengthAdjust="spacingAndGlyphs" fill="#1a1a1a" stroke="#1a1a1a" stroke-width="0.18">Met</text>
<path d="M312.50,175.30H333.00" stroke="#8a8a8a" stroke-width="0.9" fill="none"/>
<path d="M312.80,174.50V176.20M332.70,174.50V176.20" stroke="#8a8a8a" stroke-width="0.6" fill="none"/>
<circle cx="322.75" cy="171.90" r="1.0" fill="#2a2a2a"/>
<text x="421.80" y="165.20" text-anchor="middle" font-size="6.1" font-weight="bold" textLength="26.13" lengthAdjust="spacingAndGlyphs" fill="#111" stroke="#111" stroke-width="0.2">Oleoyl-CoA</text>
<rect x="400.40" y="183.70" width="1.20" height="1.20" fill="#F8666F" fill-opacity="0.5850000000000001"/>
<rect x="400.40" y="199.90" width="1.20" height="5.10" fill="#F8666F" fill-opacity="0.54"/>
<rect x="400.40" y="211.30" width="1.20" height="3.30" fill="#F8666F" fill-opacity="0.66"/>
<path d="M401.80,214.60 L402.50,214.90 L405.00,215.90 L407.80,217.30 L404.50,218.70 L403.00,219.60 L405.00,220.90 L407.00,221.90 L395.00,221.90 L397.00,220.90 L399.00,219.60 L397.50,218.70 L394.20,217.30 L397.00,215.90 L399.50,214.90 L400.20,214.60Z" fill="#F8666F"/>
<rect x="421.20" y="200.20" width="1.00" height="1.00" fill="#2262A0" fill-opacity="0.52"/>
<rect x="421.10" y="211.20" width="1.20" height="1.60" fill="#2262A0" fill-opacity="0.65"/>
<path d="M422.30,217.40 L422.90,217.80 L422.70,218.70 L422.90,219.50 L424.70,220.60 L427.20,221.50 L427.70,221.90 L415.70,221.90 L416.20,221.50 L418.70,220.60 L420.50,219.50 L420.70,218.70 L420.50,217.80 L421.10,217.40Z" fill="#2262A0"/>
<rect x="441.80" y="217.50" width="0.80" height="2.50" fill="#17BAA3" fill-opacity="0.48"/>
<path d="M443.00,219.80 L443.70,220.90 L445.70,221.50 L445.70,221.90 L438.70,221.90 L438.70,221.50 L440.70,220.90 L441.40,219.80Z" fill="#17BAA3"/>
<path d="M387.60,172.00 V222.30 H455.40" fill="none" stroke="#404040" stroke-width="1.0"/>
<text transform="translate(384.50,173.55) scale(0.94,1)" text-anchor="end" font-size="4.1" font-weight="bold" fill="#1a1a1a" stroke="#1a1a1a" stroke-width="0.16">2.5×10<tspan font-size="2.7" dy="-1.1">5</tspan></text>
<text transform="translate(384.50,183.61) scale(0.94,1)" text-anchor="end" font-size="4.1" font-weight="bold" fill="#1a1a1a" stroke="#1a1a1a" stroke-width="0.16">2.0×10<tspan font-size="2.7" dy="-1.1">5</tspan></text>
<text transform="translate(384.50,193.67) scale(0.94,1)" text-anchor="end" font-size="4.1" font-weight="bold" fill="#1a1a1a" stroke="#1a1a1a" stroke-width="0.16">1.5×10<tspan font-size="2.7" dy="-1.1">5</tspan></text>
<text transform="translate(384.50,203.73) scale(0.94,1)" text-anchor="end" font-size="4.1" font-weight="bold" fill="#1a1a1a" stroke="#1a1a1a" stroke-width="0.16">1.0×10<tspan font-size="2.7" dy="-1.1">5</tspan></text>
<text transform="translate(384.50,213.79) scale(0.94,1)" text-anchor="end" font-size="4.1" font-weight="bold" fill="#1a1a1a" stroke="#1a1a1a" stroke-width="0.16">5.0×10<tspan font-size="2.7" dy="-1.1">4</tspan></text>
<text transform="translate(384.40,223.85) scale(0.94,1)" text-anchor="end" font-size="4.1" font-weight="bold" fill="#1a1a1a" stroke="#1a1a1a" stroke-width="0.16">0.0</text>
<path d="M385.90,172.00H387.60M385.90,182.06H387.60M385.90,192.12H387.60M385.90,202.18H387.60M385.90,212.24H387.60M385.90,222.30H387.60M401.00,222.30V223.90M421.70,222.30V223.90M442.20,222.30V223.90" stroke="#404040" stroke-width="0.7" fill="none"/>
<text x="401.00" y="228.80" text-anchor="middle" font-size="4.1" font-weight="bold" textLength="7.8" lengthAdjust="spacingAndGlyphs" fill="#1a1a1a" stroke="#1a1a1a" stroke-width="0.18">BPH</text>
<text x="421.70" y="228.80" text-anchor="middle" font-size="4.1" font-weight="bold" textLength="7.2" lengthAdjust="spacingAndGlyphs" fill="#1a1a1a" stroke="#1a1a1a" stroke-width="0.18">PCa</text>
<text x="442.20" y="228.80" text-anchor="middle" font-size="4.1" font-weight="bold" textLength="6.7" lengthAdjust="spacingAndGlyphs" fill="#1a1a1a" stroke="#1a1a1a" stroke-width="0.18">Met</text>
<path d="M401.00,175.30H421.70" stroke="#8a8a8a" stroke-width="0.9" fill="none"/>
<path d="M401.30,174.50V176.20M421.40,174.50V176.20" stroke="#8a8a8a" stroke-width="0.6" fill="none"/>
<circle cx="411.35" cy="171.90" r="1.0" fill="#2a2a2a"/>
<text x="511.80" y="165.20" text-anchor="middle" font-size="6.1" font-weight="bold" textLength="49.07" lengthAdjust="spacingAndGlyphs" fill="#111" stroke="#111" stroke-width="0.2">Oxo-dodecanoyl-CoA</text>
<rect x="491.20" y="179.60" width="1.00" height="1.60" fill="#F8666F" fill-opacity="0.5850000000000001"/>
<rect x="491.20" y="197.20" width="1.00" height="6.40" fill="#F8666F" fill-opacity="0.54"/>
<rect x="491.20" y="210.20" width="1.00" height="3.00" fill="#F8666F" fill-opacity="0.6"/>
<path d="M492.50,213.20 L493.50,213.60 L495.70,214.70 L498.00,216.00 L495.70,217.10 L494.20,218.70 L494.70,220.70 L495.70,221.50 L495.70,221.90 L487.70,221.90 L487.70,221.50 L488.70,220.70 L489.20,218.70 L487.70,217.10 L485.40,216.00 L487.70,214.70 L489.90,213.60 L490.90,213.20Z" fill="#F8666F"/>
<rect x="511.70" y="198.60" width="1.00" height="1.00" fill="#2262A0" fill-opacity="0.52"/>
<rect x="511.60" y="210.90" width="1.20" height="1.20" fill="#2262A0" fill-opacity="0.65"/>
<path d="M512.80,216.60 L513.40,217.10 L514.70,218.70 L515.70,220.30 L517.70,221.30 L518.20,221.90 L506.20,221.90 L506.70,221.30 L508.70,220.30 L509.70,218.70 L511.00,217.10 L511.60,216.60Z" fill="#2262A0"/>
<rect x="532.30" y="216.60" width="0.80" height="4.00" fill="#17BAA3" fill-opacity="0.36"/>
<path d="M533.70,220.80 L534.70,221.90 L530.70,221.90 L531.70,220.80Z" fill="#17BAA3"/>
<path d="M477.60,172.00 V222.30 H545.90" fill="none" stroke="#404040" stroke-width="1.0"/>
<text transform="translate(474.50,173.55) scale(0.94,1)" text-anchor="end" font-size="4.1" font-weight="bold" fill="#1a1a1a" stroke="#1a1a1a" stroke-width="0.16">2.5×10<tspan font-size="2.7" dy="-1.1">5</tspan></text>
<text transform="translate(474.50,183.61) scale(0.94,1)" text-anchor="end" font-size="4.1" font-weight="bold" fill="#1a1a1a" stroke="#1a1a1a" stroke-width="0.16">2.0×10<tspan font-size="2.7" dy="-1.1">5</tspan></text>
<text transform="translate(474.50,193.67) scale(0.94,1)" text-anchor="end" font-size="4.1" font-weight="bold" fill="#1a1a1a" stroke="#1a1a1a" stroke-width="0.16">1.5×10<tspan font-size="2.7" dy="-1.1">5</tspan></text>
<text transform="translate(474.50,203.73) scale(0.94,1)" text-anchor="end" font-size="4.1" font-weight="bold" fill="#1a1a1a" stroke="#1a1a1a" stroke-width="0.16">1.0×10<tspan font-size="2.7" dy="-1.1">5</tspan></text>
<text transform="translate(474.50,213.79) scale(0.94,1)" text-anchor="end" font-size="4.1" font-weight="bold" fill="#1a1a1a" stroke="#1a1a1a" stroke-width="0.16">5.0×10<tspan font-size="2.7" dy="-1.1">4</tspan></text>
<text transform="translate(474.40,223.85) scale(0.94,1)" text-anchor="end" font-size="4.1" font-weight="bold" fill="#1a1a1a" stroke="#1a1a1a" stroke-width="0.16">0.0</text>
<path d="M475.90,172.00H477.60M475.90,182.06H477.60M475.90,192.12H477.60M475.90,202.18H477.60M475.90,212.24H477.60M475.90,222.30H477.60M491.70,222.30V223.90M512.20,222.30V223.90M532.70,222.30V223.90" stroke="#404040" stroke-width="0.7" fill="none"/>
<text x="491.70" y="228.80" text-anchor="middle" font-size="4.1" font-weight="bold" textLength="7.8" lengthAdjust="spacingAndGlyphs" fill="#1a1a1a" stroke="#1a1a1a" stroke-width="0.18">BPH</text>
<text x="512.20" y="228.80" text-anchor="middle" font-size="4.1" font-weight="bold" textLength="7.2" lengthAdjust="spacingAndGlyphs" fill="#1a1a1a" stroke="#1a1a1a" stroke-width="0.18">PCa</text>
<text x="532.70" y="228.80" text-anchor="middle" font-size="4.1" font-weight="bold" textLength="6.7" lengthAdjust="spacingAndGlyphs" fill="#1a1a1a" stroke="#1a1a1a" stroke-width="0.18">Met</text>
<path d="M491.70,175.30H512.20" stroke="#8a8a8a" stroke-width="0.9" fill="none"/>
<path d="M492.00,174.50V176.20M511.90,174.50V176.20" stroke="#8a8a8a" stroke-width="0.6" fill="none"/>
<circle cx="501.95" cy="171.90" r="1.0" fill="#2a2a2a"/>
<text x="68.70" y="241.00" text-anchor="middle" font-size="6.1" font-weight="bold" textLength="41.60" lengthAdjust="spacingAndGlyphs" fill="#111" stroke="#111" stroke-width="0.2">Phytosphingosine</text>
<rect x="47.30" y="267.50" width="1.40" height="1.40" fill="#F8666F" fill-opacity="0.39"/>
<rect x="47.50" y="278.60" width="1.00" height="1.00" fill="#F8666F" fill-opacity="0.52"/>
<rect x="47.50" y="282.50" width="1.00" height="6.50" fill="#F8666F" fill-opacity="0.6"/>
<rect x="47.50" y="290.40" width="1.00" height="6.10" fill="#F8666F" fill-opacity="0.66"/>
<path d="M48.60,288.80 L54.50,289.10 L54.50,290.10 L48.60,290.40 L47.40,290.40 L41.50,290.10 L41.50,289.10 L47.40,288.80Z" fill="#F8666F"/>
<rect x="68.10" y="263.60" width="0.80" height="3.50" fill="#2262A0" fill-opacity="0.66"/>
<rect x="68.25" y="267.10" width="0.50" height="4.90" fill="#2262A0" fill-opacity="0.36"/>
<path d="M68.80,272.00 L69.10,274.00 L69.40,279.40 L69.80,283.00 L70.40,285.50 L70.60,287.00 L70.30,288.50 L70.10,289.80 L70.80,291.50 L71.50,293.00 L72.40,294.50 L73.50,296.20 L74.50,297.30 L75.10,298.20 L61.90,298.20 L62.50,297.30 L63.50,296.20 L64.60,294.50 L65.50,293.00 L66.20,291.50 L66.90,289.80 L66.70,288.50 L66.40,287.00 L66.60,285.50 L67.20,283.00 L67.60,279.40 L67.90,274.00 L68.20,272.00Z" fill="#2262A0"/>
<rect x="88.15" y="282.55" width="1.30" height="1.30" fill="#17BAA3" fill-opacity="1"/>
<path d="M89.30,294.50 L89.80,295.00 L91.80,296.50 L93.80,297.20 L95.30,297.70 L95.30,298.00 L82.30,298.00 L82.30,297.70 L83.80,297.20 L85.80,296.50 L87.80,295.00 L88.30,294.50Z" fill="#17BAA3"/>
<path d="M34.50,247.50 V298.20 H102.00" fill="none" stroke="#404040" stroke-width="1.0"/>
<text transform="translate(31.40,249.05) scale(0.94,1)" text-anchor="end" font-size="4.1" font-weight="bold" fill="#1a1a1a" stroke="#1a1a1a" stroke-width="0.16">2.5×10<tspan font-size="2.7" dy="-1.1">6</tspan></text>
<text transform="translate(31.40,259.19) scale(0.94,1)" text-anchor="end" font-size="4.1" font-weight="bold" fill="#1a1a1a" stroke="#1a1a1a" stroke-width="0.16">2.0×10<tspan font-size="2.7" dy="-1.1">6</tspan></text>
<text transform="translate(31.40,269.33) scale(0.94,1)" text-anchor="end" font-size="4.1" font-weight="bold" fill="#1a1a1a" stroke="#1a1a1a" stroke-width="0.16">1.5×10<tspan font-size="2.7" dy="-1.1">6</tspan></text>
<text transform="translate(31.40,279.47) scale(0.94,1)" text-anchor="end" font-size="4.1" font-weight="bold" fill="#1a1a1a" stroke="#1a1a1a" stroke-width="0.16">1.0×10<tspan font-size="2.7" dy="-1.1">6</tspan></text>
<text transform="translate(31.40,289.61) scale(0.94,1)" text-anchor="end" font-size="4.1" font-weight="bold" fill="#1a1a1a" stroke="#1a1a1a" stroke-width="0.16">5.0×10<tspan font-size="2.7" dy="-1.1">5</tspan></text>
<text transform="translate(31.30,299.75) scale(0.94,1)" text-anchor="end" font-size="4.1" font-weight="bold" fill="#1a1a1a" stroke="#1a1a1a" stroke-width="0.16">0.0</text>
<path d="M32.80,247.50H34.50M32.80,257.64H34.50M32.80,267.78H34.50M32.80,277.92H34.50M32.80,288.06H34.50M32.80,298.20H34.50M48.00,298.20V299.80M68.50,298.20V299.80M88.80,298.20V299.80" stroke="#404040" stroke-width="0.7" fill="none"/>
<text x="48.00" y="304.70" text-anchor="middle" font-size="4.1" font-weight="bold" textLength="7.8" lengthAdjust="spacingAndGlyphs" fill="#1a1a1a" stroke="#1a1a1a" stroke-width="0.18">BPH</text>
<text x="68.50" y="304.70" text-anchor="middle" font-size="4.1" font-weight="bold" textLength="7.2" lengthAdjust="spacingAndGlyphs" fill="#1a1a1a" stroke="#1a1a1a" stroke-width="0.18">PCa</text>
<text x="88.80" y="304.70" text-anchor="middle" font-size="4.1" font-weight="bold" textLength="6.7" lengthAdjust="spacingAndGlyphs" fill="#1a1a1a" stroke="#1a1a1a" stroke-width="0.18">Met</text>
<path d="M48.00,251.30H68.50" stroke="#8a8a8a" stroke-width="0.9" fill="none"/>
<path d="M48.30,250.50V252.20M68.20,250.50V252.20" stroke="#8a8a8a" stroke-width="0.6" fill="none"/>
<circle cx="58.25" cy="247.90" r="1.0" fill="#2a2a2a"/>
<path d="M68.50,255.70H88.80" stroke="#8a8a8a" stroke-width="0.9" fill="none"/>
<path d="M68.80,254.90V256.60M88.50,254.90V256.60" stroke="#8a8a8a" stroke-width="0.6" fill="none"/>
<circle cx="78.65" cy="252.30" r="1.0" fill="#2a2a2a"/>
<text x="156.30" y="241.00" text-anchor="middle" font-size="6.1" font-weight="bold" textLength="34.41" lengthAdjust="spacingAndGlyphs" fill="#111" stroke="#111" stroke-width="0.2">Proline betaine</text>
<rect x="135.00" y="284.20" width="1.60" height="1.20" fill="#F8666F" fill-opacity="1"/>
<rect x="135.00" y="286.30" width="1.60" height="1.20" fill="#F8666F" fill-opacity="1"/>
<rect x="135.45" y="284.80" width="0.70" height="5.70" fill="#F8666F" fill-opacity="0.72"/>
<path d="M136.60,290.20 L137.30,290.50 L139.80,291.70 L141.30,292.50 L142.00,293.40 L141.60,294.30 L140.80,295.00 L138.80,295.80 L136.80,296.00 L134.80,296.00 L132.80,295.80 L130.80,295.00 L130.00,294.30 L129.60,293.40 L130.30,292.50 L131.80,291.70 L134.30,290.50 L135.00,290.20Z" fill="#F8666F"/>
<rect x="155.80" y="281.90" width="1.00" height="1.00" fill="#2262A0" fill-opacity="0.9099999999999999"/>
<rect x="155.70" y="286.70" width="1.20" height="1.20" fill="#2262A0" fill-opacity="1"/>
<path d="M156.90,288.50 L157.30,288.80 L158.30,290.50 L159.80,291.70 L161.30,292.90 L163.00,294.00 L161.80,295.30 L157.80,296.10 L154.80,296.10 L150.80,295.30 L149.60,294.00 L151.30,292.90 L152.80,291.70 L154.30,290.50 L155.30,288.80 L155.70,288.50Z" fill="#2262A0"/>
<path d="M177.10,255.50 L177.80,256.00 L178.00,257.50 L177.60,259.70 L177.90,262.00 L177.50,264.00 L177.90,266.00 L177.60,268.00 L177.90,271.00 L177.80,274.30 L178.10,277.50 L178.40,280.00 L178.60,282.40 L179.60,285.90 L181.10,288.50 L182.40,290.50 L183.20,292.40 L182.10,294.50 L178.60,295.30 L174.60,295.30 L171.10,294.50 L170.00,292.40 L170.80,290.50 L172.10,288.50 L173.60,285.90 L174.60,282.40 L174.80,280.00 L175.10,277.50 L175.40,274.30 L175.30,271.00 L175.60,268.00 L175.30,266.00 L175.70,264.00 L175.30,262.00 L175.60,259.70 L175.20,257.50 L175.40,256.00 L176.10,255.50Z" fill="#17BAA3"/>
<path d="M122.10,247.50 V298.20 H189.80" fill="none" stroke="#404040" stroke-width="1.0"/>
<text transform="translate(119.00,249.05) scale(0.94,1)" text-anchor="end" font-size="4.1" font-weight="bold" fill="#1a1a1a" stroke="#1a1a1a" stroke-width="0.16">5×10<tspan font-size="2.7" dy="-1.1">5</tspan></text>
<text transform="translate(119.00,259.19) scale(0.94,1)" text-anchor="end" font-size="4.1" font-weight="bold" fill="#1a1a1a" stroke="#1a1a1a" stroke-width="0.16">4×10<tspan font-size="2.7" dy="-1.1">5</tspan></text>
<text transform="translate(119.00,269.33) scale(0.94,1)" text-anchor="end" font-size="4.1" font-weight="bold" fill="#1a1a1a" stroke="#1a1a1a" stroke-width="0.16">3×10<tspan font-size="2.7" dy="-1.1">5</tspan></text>
<text transform="translate(119.00,279.47) scale(0.94,1)" text-anchor="end" font-size="4.1" font-weight="bold" fill="#1a1a1a" stroke="#1a1a1a" stroke-width="0.16">2×10<tspan font-size="2.7" dy="-1.1">5</tspan></text>
<text transform="translate(119.00,289.61) scale(0.94,1)" text-anchor="end" font-size="4.1" font-weight="bold" fill="#1a1a1a" stroke="#1a1a1a" stroke-width="0.16">1×10<tspan font-size="2.7" dy="-1.1">5</tspan></text>
<text transform="translate(118.90,299.75) scale(0.94,1)" text-anchor="end" font-size="4.1" font-weight="bold" fill="#1a1a1a" stroke="#1a1a1a" stroke-width="0.16">0</text>
<path d="M120.40,247.50H122.10M120.40,257.64H122.10M120.40,267.78H122.10M120.40,277.92H122.10M120.40,288.06H122.10M120.40,298.20H122.10M135.80,298.20V299.80M156.30,298.20V299.80M176.60,298.20V299.80" stroke="#404040" stroke-width="0.7" fill="none"/>
<text x="135.80" y="304.70" text-anchor="middle" font-size="4.1" font-weight="bold" textLength="7.8" lengthAdjust="spacingAndGlyphs" fill="#1a1a1a" stroke="#1a1a1a" stroke-width="0.18">BPH</text>
<text x="156.30" y="304.70" text-anchor="middle" font-size="4.1" font-weight="bold" textLength="7.2" lengthAdjust="spacingAndGlyphs" fill="#1a1a1a" stroke="#1a1a1a" stroke-width="0.18">PCa</text>
<text x="176.60" y="304.70" text-anchor="middle" font-size="4.1" font-weight="bold" textLength="6.7" lengthAdjust="spacingAndGlyphs" fill="#1a1a1a" stroke="#1a1a1a" stroke-width="0.18">Met</text>
<path d="M156.30,251.30H176.60" stroke="#8a8a8a" stroke-width="0.9" fill="none"/>
<path d="M156.60,250.50V252.20M176.30,250.50V252.20" stroke="#8a8a8a" stroke-width="0.6" fill="none"/>
<circle cx="166.45" cy="247.90" r="1.0" fill="#2a2a2a"/>
<text x="244.40" y="241.00" text-anchor="middle" font-size="6.1" font-weight="bold" textLength="25.88" lengthAdjust="spacingAndGlyphs" fill="#111" stroke="#111" stroke-width="0.2">Ser-Ser-OH</text>
<path d="M224.50,281.50 L226.00,282.70 L227.50,283.80 L228.50,285.60 L228.00,287.30 L229.00,289.20 L230.05,291.40 L229.50,293.10 L227.50,295.00 L225.00,296.00 L222.00,296.00 L219.50,295.00 L217.50,293.10 L216.95,291.40 L218.00,289.20 L219.00,287.30 L218.50,285.60 L219.50,283.80 L221.00,282.70 L222.50,281.50Z" fill="#F8666F"/>
<rect x="243.35" y="264.25" width="1.30" height="1.30" fill="#2262A0" fill-opacity="1"/>
<path d="M244.40,280.50 L245.00,282.70 L246.50,284.80 L247.80,286.00 L248.50,287.00 L248.00,289.20 L249.00,290.70 L250.55,292.60 L248.50,294.00 L245.50,295.00 L242.50,295.00 L239.50,294.00 L237.45,292.60 L239.00,290.70 L240.00,289.20 L239.50,287.00 L240.20,286.00 L241.50,284.80 L243.00,282.70 L243.60,280.50Z" fill="#2262A0"/>
<rect x="263.75" y="282.05" width="1.30" height="1.30" fill="#17BAA3" fill-opacity="1"/>
<path d="M264.90,287.30 L265.90,289.20 L266.20,292.10 L267.40,293.60 L268.90,294.30 L270.95,295.00 L269.90,296.00 L266.40,296.60 L262.40,296.60 L258.90,296.00 L257.85,295.00 L259.90,294.30 L261.40,293.60 L262.60,292.10 L262.90,289.20 L263.90,287.30Z" fill="#17BAA3"/>
<path d="M210.20,247.50 V298.20 H277.60" fill="none" stroke="#404040" stroke-width="1.0"/>
<text transform="translate(207.10,249.05) scale(0.94,1)" text-anchor="end" font-size="4.1" font-weight="bold" fill="#1a1a1a" stroke="#1a1a1a" stroke-width="0.16">1×10<tspan font-size="2.7" dy="-1.1">6</tspan></text>
<text transform="translate(207.10,259.19) scale(0.94,1)" text-anchor="end" font-size="4.1" font-weight="bold" fill="#1a1a1a" stroke="#1a1a1a" stroke-width="0.16">8×10<tspan font-size="2.7" dy="-1.1">5</tspan></text>
<text transform="translate(207.10,269.33) scale(0.94,1)" text-anchor="end" font-size="4.1" font-weight="bold" fill="#1a1a1a" stroke="#1a1a1a" stroke-width="0.16">6×10<tspan font-size="2.7" dy="-1.1">5</tspan></text>
<text transform="translate(207.10,279.47) scale(0.94,1)" text-anchor="end" font-size="4.1" font-weight="bold" fill="#1a1a1a" stroke="#1a1a1a" stroke-width="0.16">4×10<tspan font-size="2.7" dy="-1.1">5</tspan></text>
<text transform="translate(207.10,289.61) scale(0.94,1)" text-anchor="end" font-size="4.1" font-weight="bold" fill="#1a1a1a" stroke="#1a1a1a" stroke-width="0.16">2×10<tspan font-size="2.7" dy="-1.1">5</tspan></text>
<text transform="translate(207.00,299.75) scale(0.94,1)" text-anchor="end" font-size="4.1" font-weight="bold" fill="#1a1a1a" stroke="#1a1a1a" stroke-width="0.16">0</text>
<path d="M208.50,247.50H210.20M208.50,257.64H210.20M208.50,267.78H210.20M208.50,277.92H210.20M208.50,288.06H210.20M208.50,298.20H210.20M223.50,298.20V299.80M244.00,298.20V299.80M264.40,298.20V299.80" stroke="#404040" stroke-width="0.7" fill="none"/>
<text x="223.50" y="304.70" text-anchor="middle" font-size="4.1" font-weight="bold" textLength="7.8" lengthAdjust="spacingAndGlyphs" fill="#1a1a1a" stroke="#1a1a1a" stroke-width="0.18">BPH</text>
<text x="244.00" y="304.70" text-anchor="middle" font-size="4.1" font-weight="bold" textLength="7.2" lengthAdjust="spacingAndGlyphs" fill="#1a1a1a" stroke="#1a1a1a" stroke-width="0.18">PCa</text>
<text x="264.40" y="304.70" text-anchor="middle" font-size="4.1" font-weight="bold" textLength="6.7" lengthAdjust="spacingAndGlyphs" fill="#1a1a1a" stroke="#1a1a1a" stroke-width="0.18">Met</text>
<path d="M244.00,251.30H264.40" stroke="#8a8a8a" stroke-width="0.9" fill="none"/>
<path d="M244.30,250.50V252.20M264.10,250.50V252.20" stroke="#8a8a8a" stroke-width="0.6" fill="none"/>
<circle cx="254.20" cy="247.90" r="1.0" fill="#2a2a2a"/>
<text x="333.10" y="241.00" text-anchor="middle" font-size="6.1" font-weight="bold" textLength="30.40" lengthAdjust="spacingAndGlyphs" fill="#111" stroke="#111" stroke-width="0.2">Stearoyl-CoA</text>
<rect x="311.95" y="259.85" width="1.10" height="1.30" fill="#F8666F" fill-opacity="0.7150000000000001"/>
<rect x="311.95" y="275.40" width="1.10" height="5.10" fill="#F8666F" fill-opacity="0.6"/>
<rect x="311.95" y="287.00" width="1.10" height="3.40" fill="#F8666F" fill-opacity="0.72"/>
<path d="M313.30,290.40 L314.00,290.70 L316.50,292.10 L318.90,293.10 L316.00,294.60 L315.00,295.50 L316.50,296.50 L318.00,297.30 L318.00,298.00 L307.00,298.00 L307.00,297.30 L308.50,296.50 L310.00,295.50 L309.00,294.60 L306.10,293.10 L308.50,292.10 L311.00,290.70 L311.70,290.40Z" fill="#F8666F"/>
<rect x="332.40" y="277.00" width="1.20" height="1.20" fill="#2262A0" fill-opacity="0.52"/>
<rect x="332.40" y="287.15" width="1.20" height="1.30" fill="#2262A0" fill-opacity="0.65"/>
<path d="M333.60,293.60 L334.00,294.00 L335.00,295.00 L336.50,296.20 L338.50,297.30 L338.50,298.00 L327.50,298.00 L327.50,297.30 L329.50,296.20 L331.00,295.00 L332.00,294.00 L332.40,293.60Z" fill="#2262A0"/>
<rect x="353.00" y="292.00" width="0.80" height="3.50" fill="#17BAA3" fill-opacity="0.42"/>
<path d="M353.90,295.50 L354.90,296.50 L357.00,297.30 L357.00,298.00 L349.80,298.00 L349.80,297.30 L351.90,296.50 L352.90,295.50Z" fill="#17BAA3"/>
<path d="M298.90,247.50 V298.20 H366.60" fill="none" stroke="#404040" stroke-width="1.0"/>
<text transform="translate(295.80,249.05) scale(0.94,1)" text-anchor="end" font-size="4.1" font-weight="bold" fill="#1a1a1a" stroke="#1a1a1a" stroke-width="0.16">2.0×10<tspan font-size="2.7" dy="-1.1">5</tspan></text>
<text transform="translate(295.80,261.73) scale(0.94,1)" text-anchor="end" font-size="4.1" font-weight="bold" fill="#1a1a1a" stroke="#1a1a1a" stroke-width="0.16">1.5×10<tspan font-size="2.7" dy="-1.1">5</tspan></text>
<text transform="translate(295.80,274.40) scale(0.94,1)" text-anchor="end" font-size="4.1" font-weight="bold" fill="#1a1a1a" stroke="#1a1a1a" stroke-width="0.16">1.0×10<tspan font-size="2.7" dy="-1.1">5</tspan></text>
<text transform="translate(295.80,287.07) scale(0.94,1)" text-anchor="end" font-size="4.1" font-weight="bold" fill="#1a1a1a" stroke="#1a1a1a" stroke-width="0.16">5.0×10<tspan font-size="2.7" dy="-1.1">4</tspan></text>
<text transform="translate(295.70,299.75) scale(0.94,1)" text-anchor="end" font-size="4.1" font-weight="bold" fill="#1a1a1a" stroke="#1a1a1a" stroke-width="0.16">0.0</text>
<path d="M297.20,247.50H298.90M297.20,260.18H298.90M297.20,272.85H298.90M297.20,285.52H298.90M297.20,298.20H298.90M312.50,298.20V299.80M333.00,298.20V299.80M353.40,298.20V299.80" stroke="#404040" stroke-width="0.7" fill="none"/>
<text x="312.50" y="304.70" text-anchor="middle" font-size="4.1" font-weight="bold" textLength="7.8" lengthAdjust="spacingAndGlyphs" fill="#1a1a1a" stroke="#1a1a1a" stroke-width="0.18">BPH</text>
<text x="333.00" y="304.70" text-anchor="middle" font-size="4.1" font-weight="bold" textLength="7.2" lengthAdjust="spacingAndGlyphs" fill="#1a1a1a" stroke="#1a1a1a" stroke-width="0.18">PCa</text>
<text x="353.40" y="304.70" text-anchor="middle" font-size="4.1" font-weight="bold" textLength="6.7" lengthAdjust="spacingAndGlyphs" fill="#1a1a1a" stroke="#1a1a1a" stroke-width="0.18">Met</text>
<path d="M312.50,251.30H333.00" stroke="#8a8a8a" stroke-width="0.9" fill="none"/>
<path d="M312.80,250.50V252.20M332.70,250.50V252.20" stroke="#8a8a8a" stroke-width="0.6" fill="none"/>
<circle cx="322.75" cy="247.90" r="1.0" fill="#2a2a2a"/>
<text x="421.80" y="241.00" text-anchor="middle" font-size="6.1" font-weight="bold" textLength="17.60" lengthAdjust="spacingAndGlyphs" fill="#111" stroke="#111" stroke-width="0.2">TG 47:1</text>
<rect x="400.60" y="288.00" width="0.80" height="2.00" fill="#F8666F" fill-opacity="0.48"/>
<path d="M401.50,269.60 L402.50,271.70 L404.00,274.70 L405.00,276.80 L405.50,279.00 L406.80,280.20 L407.55,280.90 L406.50,281.60 L405.00,282.40 L403.50,284.10 L402.50,286.30 L401.40,288.20 L400.60,288.20 L399.50,286.30 L398.50,284.10 L397.00,282.40 L395.50,281.60 L394.45,280.90 L395.20,280.20 L396.50,279.00 L397.00,276.80 L398.00,274.70 L399.50,271.70 L400.50,269.60Z" fill="#F8666F"/>
<path d="M422.20,268.40 L422.90,270.50 L423.50,272.50 L424.50,274.50 L425.50,276.00 L426.50,278.00 L427.20,279.90 L427.90,281.50 L428.30,283.70 L428.00,285.50 L426.70,286.50 L423.20,287.00 L420.20,287.00 L416.70,286.50 L415.40,285.50 L415.10,283.70 L415.50,281.50 L416.20,279.90 L416.90,278.00 L417.90,276.00 L418.90,274.50 L419.90,272.50 L420.50,270.50 L421.20,268.40Z" fill="#2262A0"/>
<path d="M444.50,260.10 L444.70,262.50 L445.40,264.00 L446.40,266.00 L447.20,268.10 L448.20,271.00 L448.80,273.50 L449.20,276.00 L449.00,278.30 L448.20,281.20 L447.20,283.50 L446.50,285.20 L444.20,285.90 L440.20,285.90 L437.90,285.20 L437.20,283.50 L436.20,281.20 L435.40,278.30 L435.20,276.00 L435.60,273.50 L436.20,271.00 L437.20,268.10 L438.00,266.00 L439.00,264.00 L439.70,262.50 L439.90,260.10Z" fill="#17BAA3"/>
<path d="M387.60,247.50 V298.20 H455.40" fill="none" stroke="#404040" stroke-width="1.0"/>
<text transform="translate(384.50,249.05) scale(0.94,1)" text-anchor="end" font-size="4.1" font-weight="bold" fill="#1a1a1a" stroke="#1a1a1a" stroke-width="0.16">2.0×10<tspan font-size="2.7" dy="-1.1">6</tspan></text>
<text transform="translate(384.50,261.73) scale(0.94,1)" text-anchor="end" font-size="4.1" font-weight="bold" fill="#1a1a1a" stroke="#1a1a1a" stroke-width="0.16">1.5×10<tspan font-size="2.7" dy="-1.1">6</tspan></text>
<text transform="translate(384.50,274.40) scale(0.94,1)" text-anchor="end" font-size="4.1" font-weight="bold" fill="#1a1a1a" stroke="#1a1a1a" stroke-width="0.16">1.0×10<tspan font-size="2.7" dy="-1.1">6</tspan></text>
<text transform="translate(384.50,287.07) scale(0.94,1)" text-anchor="end" font-size="4.1" font-weight="bold" fill="#1a1a1a" stroke="#1a1a1a" stroke-width="0.16">5.0×10<tspan font-size="2.7" dy="-1.1">5</tspan></text>
<text transform="translate(384.40,299.75) scale(0.94,1)" text-anchor="end" font-size="4.1" font-weight="bold" fill="#1a1a1a" stroke="#1a1a1a" stroke-width="0.16">0.0</text>
<path d="M385.90,247.50H387.60M385.90,260.18H387.60M385.90,272.85H387.60M385.90,285.52H387.60M385.90,298.20H387.60M401.00,298.20V299.80M421.70,298.20V299.80M442.20,298.20V299.80" stroke="#404040" stroke-width="0.7" fill="none"/>
<text x="401.00" y="304.70" text-anchor="middle" font-size="4.1" font-weight="bold" textLength="7.8" lengthAdjust="spacingAndGlyphs" fill="#1a1a1a" stroke="#1a1a1a" stroke-width="0.18">BPH</text>
<text x="421.70" y="304.70" text-anchor="middle" font-size="4.1" font-weight="bold" textLength="7.2" lengthAdjust="spacingAndGlyphs" fill="#1a1a1a" stroke="#1a1a1a" stroke-width="0.18">PCa</text>
<text x="442.20" y="304.70" text-anchor="middle" font-size="4.1" font-weight="bold" textLength="6.7" lengthAdjust="spacingAndGlyphs" fill="#1a1a1a" stroke="#1a1a1a" stroke-width="0.18">Met</text>
<path d="M421.70,251.30H442.20" stroke="#8a8a8a" stroke-width="0.9" fill="none"/>
<path d="M422.00,250.50V252.20M441.90,250.50V252.20" stroke="#8a8a8a" stroke-width="0.6" fill="none"/>
<circle cx="431.95" cy="247.90" r="1.0" fill="#2a2a2a"/>
<text x="511.80" y="241.00" text-anchor="middle" font-size="6.1" font-weight="bold" textLength="29.59" lengthAdjust="spacingAndGlyphs" fill="#111" stroke="#111" stroke-width="0.2">Urobilinogen</text>
<rect x="491.35" y="291.80" width="0.70" height="6.20" fill="#F8666F" fill-opacity="0.42"/>
<path d="M492.00,296.20 L492.70,297.20 L492.90,298.00 L490.50,298.00 L490.70,297.20 L491.40,296.20Z" fill="#F8666F"/>
<rect x="511.70" y="289.90" width="1.00" height="1.00" fill="#2262A0" fill-opacity="0.52"/>
<path d="M512.60,293.40 L513.40,294.20 L514.20,294.90 L515.40,295.90 L514.40,296.50 L515.70,297.10 L518.40,297.80 L518.40,298.00 L506.00,298.00 L506.00,297.80 L508.70,297.10 L510.00,296.50 L509.00,295.90 L510.20,294.90 L511.00,294.20 L511.80,293.40Z" fill="#2262A0"/>
<path d="M530.90,264.10H534.50L532.70,267.50Z" fill="#17BAA3"/>
<path d="M533.30,285.20 L535.20,286.20 L538.20,287.20 L539.20,289.00 L538.20,290.00 L536.20,291.20 L534.70,292.40 L534.20,293.20 L535.20,294.20 L536.70,295.50 L537.20,296.50 L537.20,298.00 L528.20,298.00 L528.20,296.50 L528.70,295.50 L530.20,294.20 L531.20,293.20 L530.70,292.40 L529.20,291.20 L527.20,290.00 L526.20,289.00 L527.20,287.20 L530.20,286.20 L532.10,285.20Z" fill="#17BAA3"/>
<path d="M477.60,247.50 V298.20 H545.90" fill="none" stroke="#404040" stroke-width="1.0"/>
<text transform="translate(474.50,249.05) scale(0.94,1)" text-anchor="end" font-size="4.1" font-weight="bold" fill="#1a1a1a" stroke="#1a1a1a" stroke-width="0.16">2.5×10<tspan font-size="2.7" dy="-1.1">5</tspan></text>
<text transform="translate(474.50,259.19) scale(0.94,1)" text-anchor="end" font-size="4.1" font-weight="bold" fill="#1a1a1a" stroke="#1a1a1a" stroke-width="0.16">2.0×10<tspan font-size="2.7" dy="-1.1">5</tspan></text>
<text transform="translate(474.50,269.33) scale(0.94,1)" text-anchor="end" font-size="4.1" font-weight="bold" fill="#1a1a1a" stroke="#1a1a1a" stroke-width="0.16">1.5×10<tspan font-size="2.7" dy="-1.1">5</tspan></text>
<text transform="translate(474.50,279.47) scale(0.94,1)" text-anchor="end" font-size="4.1" font-weight="bold" fill="#1a1a1a" stroke="#1a1a1a" stroke-width="0.16">1.0×10<tspan font-size="2.7" dy="-1.1">5</tspan></text>
<text transform="translate(474.50,289.61) scale(0.94,1)" text-anchor="end" font-size="4.1" font-weight="bold" fill="#1a1a1a" stroke="#1a1a1a" stroke-width="0.16">5.0×10<tspan font-size="2.7" dy="-1.1">4</tspan></text>
<text transform="translate(474.40,299.75) scale(0.94,1)" text-anchor="end" font-size="4.1" font-weight="bold" fill="#1a1a1a" stroke="#1a1a1a" stroke-width="0.16">0.0</text>
<path d="M475.90,247.50H477.60M475.90,257.64H477.60M475.90,267.78H477.60M475.90,277.92H477.60M475.90,288.06H477.60M475.90,298.20H477.60M491.70,298.20V299.80M512.20,298.20V299.80M532.70,298.20V299.80" stroke="#404040" stroke-width="0.7" fill="none"/>
<text x="491.70" y="304.70" text-anchor="middle" font-size="4.1" font-weight="bold" textLength="7.8" lengthAdjust="spacingAndGlyphs" fill="#1a1a1a" stroke="#1a1a1a" stroke-width="0.18">BPH</text>
<text x="512.20" y="304.70" text-anchor="middle" font-size="4.1" font-weight="bold" textLength="7.2" lengthAdjust="spacingAndGlyphs" fill="#1a1a1a" stroke="#1a1a1a" stroke-width="0.18">PCa</text>
<text x="532.70" y="304.70" text-anchor="middle" font-size="4.1" font-weight="bold" textLength="6.7" lengthAdjust="spacingAndGlyphs" fill="#1a1a1a" stroke="#1a1a1a" stroke-width="0.18">Met</text>
<path d="M491.70,251.30H512.20" stroke="#8a8a8a" stroke-width="0.9" fill="none"/>
<path d="M492.00,250.50V252.20M511.90,250.50V252.20" stroke="#8a8a8a" stroke-width="0.6" fill="none"/>
<circle cx="501.95" cy="247.90" r="1.0" fill="#2a2a2a"/>
<path d="M512.20,255.70H532.70" stroke="#8a8a8a" stroke-width="0.9" fill="none"/>
<path d="M512.50,254.90V256.60M532.40,254.90V256.60" stroke="#8a8a8a" stroke-width="0.6" fill="none"/>
<circle cx="522.45" cy="252.30" r="1.0" fill="#2a2a2a"/>
</svg></body></html>
